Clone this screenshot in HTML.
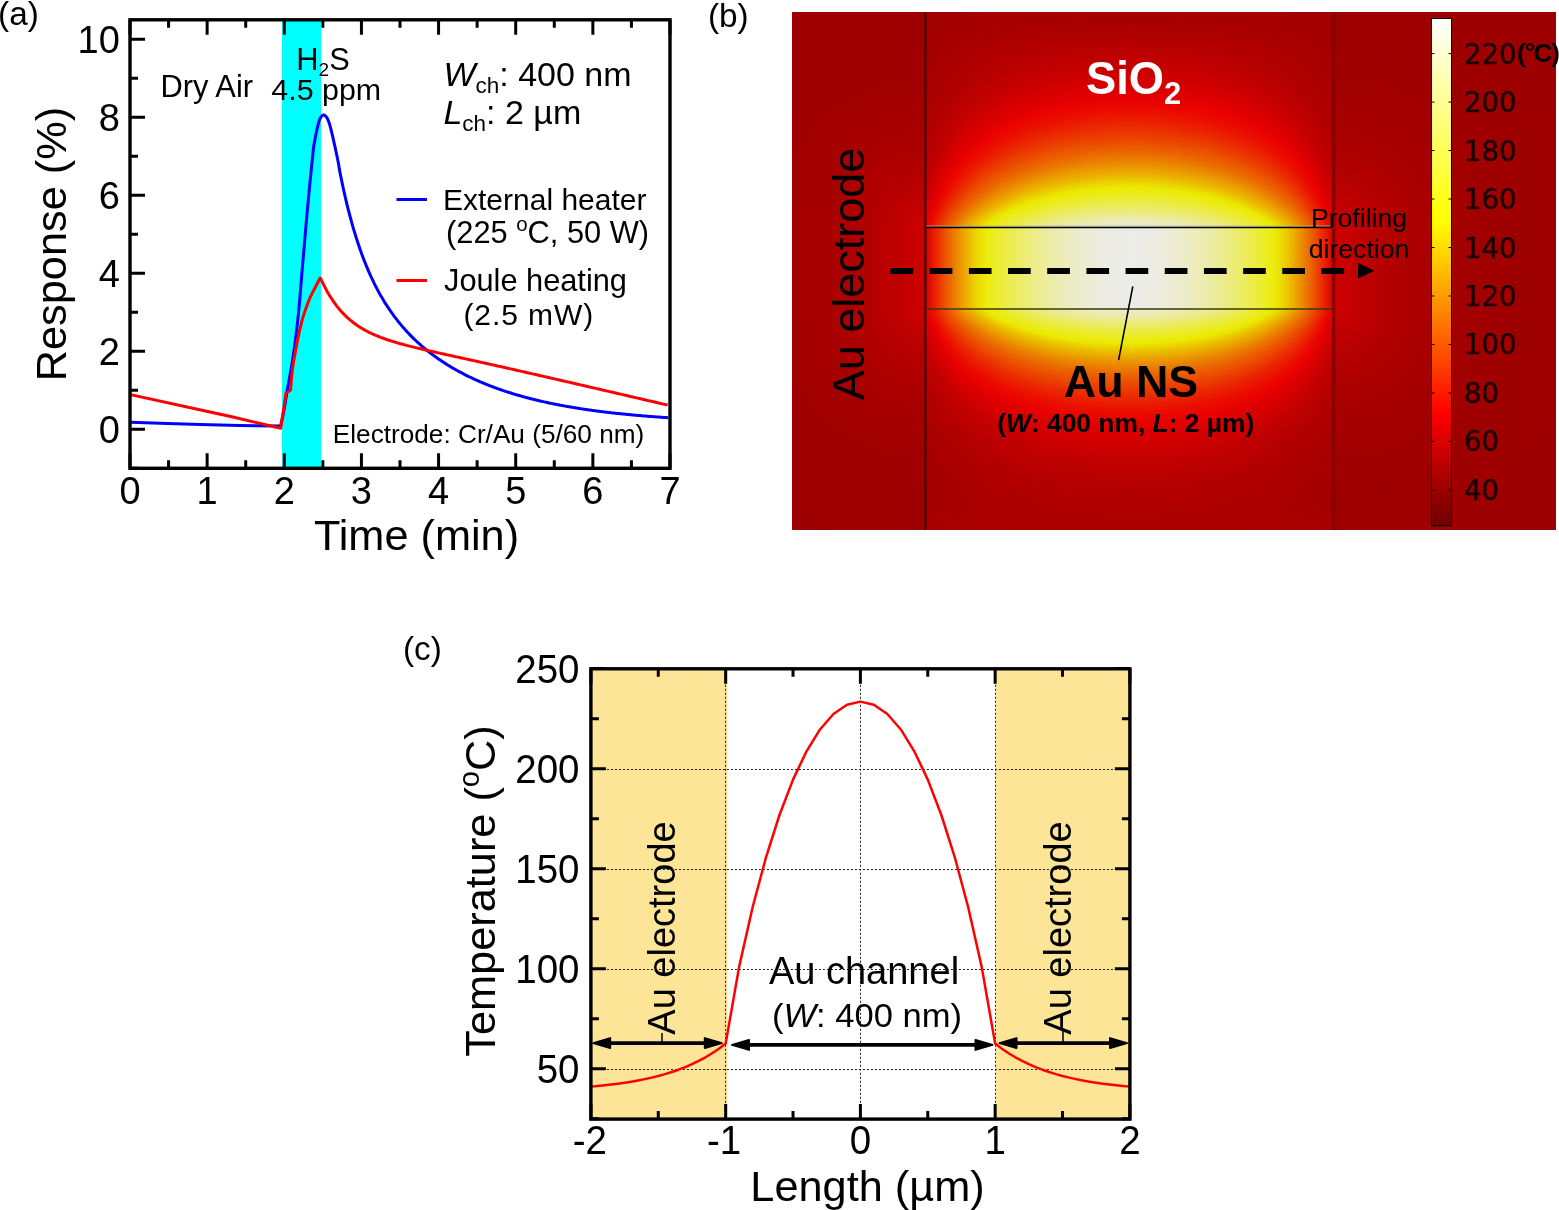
<!DOCTYPE html><html><head><meta charset="utf-8"><style>html,body{margin:0;padding:0;background:#fff;overflow:hidden;width:1559px;height:1210px}svg{display:block}</style></head><body><svg width="1559" height="1210" viewBox="0 0 1559 1210" font-family="'Liberation Sans', Arial, Helvetica, sans-serif">
<rect width="1559" height="1210" fill="#fff"/>
<rect x="282" y="19.8" width="39" height="448.5" fill="#00ffff"/>
<polyline points="130.5,422.2 160.0,423.2 200.0,424.6 240.0,425.6 280.6,425.9 280.6,425.9 281.2,423.5 281.8,420.9 282.4,418.2 283.0,415.3 283.6,412.3 284.2,408.9 284.8,405.4 285.4,401.7 286.0,398.0 286.6,394.3 287.2,390.7 287.8,387.4 288.4,384.0 289.0,380.8 289.6,377.5 290.2,374.2 290.8,370.8 291.4,367.3 292.0,363.6 292.6,359.7 293.2,355.7 293.8,351.6 294.4,347.4 295.0,343.0 295.6,338.4 296.2,333.6 296.8,328.6 297.4,323.4 298.0,317.9 298.6,311.8 299.2,305.3 299.8,298.5 300.4,291.4 301.0,284.1 301.6,276.8 302.2,269.6 302.8,262.5 303.4,255.6 304.0,248.7 304.6,241.7 305.2,234.7 305.8,227.7 306.4,220.8 307.0,213.9 307.6,207.3 308.2,200.8 308.8,194.4 309.4,188.2 310.0,182.0 310.6,176.0 311.2,170.0 311.8,164.2 312.4,158.4 313.0,152.8 313.6,147.2 313.7,146.3 314.3,143.0 314.9,139.7 315.5,136.6 316.1,133.5 316.7,130.5 317.3,127.8 317.9,125.3 318.5,123.0 319.1,121.1 319.7,119.5 320.3,118.2 320.9,117.1 321.5,116.3 322.1,115.7 322.7,115.2 323.3,115.0 323.9,115.0 324.5,115.2 325.1,115.6 325.7,116.2 326.3,116.9 326.9,117.7 327.5,118.8 328.1,120.1 328.7,121.6 329.3,123.4 329.9,125.4 330.5,127.6 331.1,129.9 331.7,132.4 332.3,134.9 332.9,137.4 333.5,140.1 334.1,142.8 334.7,145.5 335.3,148.2 335.9,151.0 336.5,153.9 337.1,156.7 337.7,159.7 338.3,162.6 338.6,164.1 339.2,168.4 340.2,173.6 341.2,178.5 342.2,183.3 343.2,188.0 344.2,192.5 345.2,196.9 346.2,201.1 347.2,205.3 348.2,209.3 349.2,213.2 350.2,217.0 351.2,220.7 352.2,224.3 353.2,227.8 354.2,231.1 355.2,234.4 356.2,237.6 357.2,240.8 358.2,243.8 359.2,246.8 360.2,249.7 361.2,252.5 362.2,255.2 363.2,257.9 364.2,260.5 365.2,263.0 366.2,265.5 367.2,267.9 368.2,270.3 369.2,272.6 370.2,274.8 371.2,277.0 372.2,279.1 373.2,281.2 374.2,283.3 375.2,285.3 376.2,287.2 377.2,289.2 378.2,291.0 379.2,292.9 380.2,294.7 381.2,296.4 382.2,298.1 383.2,299.8 384.2,301.5 385.2,303.1 386.2,304.7 387.2,306.2 388.2,307.7 389.2,309.2 390.2,310.7 391.2,312.1 392.2,313.5 393.2,314.9 394.2,316.3 395.2,317.6 396.2,318.9 397.2,320.2 398.2,321.5 399.2,322.7 400.2,323.9 401.2,325.1 402.2,326.3 403.2,327.5 404.2,328.6 405.2,329.7 406.2,330.9 407.2,331.9 408.2,333.0 409.2,334.1 410.2,335.1 411.2,336.1 412.2,337.1 413.2,338.1 414.2,339.1 415.2,340.0 416.2,341.0 417.2,341.9 418.2,342.8 419.2,343.7 420.2,344.6 421.2,345.5 422.2,346.4 423.2,347.2 424.2,348.1 425.2,348.9 426.2,349.7 427.2,350.5 428.2,351.3 429.2,352.1 430.2,352.9 431.2,353.6 432.2,354.4 433.2,355.1 434.2,355.9 435.2,356.6 436.2,357.3 437.2,358.0 438.2,358.7 439.2,359.4 440.2,360.1 441.2,360.8 442.2,361.4 443.2,362.1 444.2,362.8 445.2,363.4 446.2,364.0 447.2,364.7 448.2,365.3 449.2,365.9 450.2,366.5 451.2,367.1 452.2,367.7 453.2,368.3 454.2,368.8 455.2,369.4 456.2,370.0 457.2,370.5 458.2,371.1 459.2,371.6 460.2,372.2 461.2,372.7 462.2,373.2 463.2,373.7 464.2,374.3 465.2,374.8 466.2,375.3 467.2,375.8 468.2,376.3 469.2,376.8 470.2,377.2 471.2,377.7 472.2,378.2 473.2,378.6 474.2,379.1 475.2,379.6 476.2,380.0 477.2,380.5 478.2,380.9 479.2,381.3 480.2,381.8 481.2,382.2 482.2,382.6 483.2,383.0 484.2,383.5 485.2,383.9 486.2,384.3 487.2,384.7 488.2,385.1 489.2,385.5 490.2,385.9 491.2,386.2 492.2,386.6 493.2,387.0 494.2,387.4 495.2,387.7 496.2,388.1 497.2,388.5 498.2,388.8 499.2,389.2 500.2,389.5 501.2,389.9 502.2,390.2 503.2,390.6 504.2,390.9 505.2,391.2 506.2,391.6 507.2,391.9 508.2,392.2 509.2,392.5 510.2,392.8 511.2,393.1 512.2,393.5 513.2,393.8 514.2,394.1 515.2,394.4 516.2,394.7 517.2,395.0 518.2,395.2 519.2,395.5 520.2,395.8 521.2,396.1 522.2,396.4 523.2,396.7 524.2,396.9 525.2,397.2 526.2,397.5 527.2,397.7 528.2,398.0 529.2,398.3 530.2,398.5 531.2,398.8 532.2,399.0 533.2,399.3 534.2,399.5 535.2,399.8 536.2,400.0 537.2,400.3 538.2,400.5 539.2,400.7 540.2,401.0 541.2,401.2 542.2,401.4 543.2,401.6 544.2,401.9 545.2,402.1 546.2,402.3 547.2,402.5 548.2,402.7 549.2,403.0 550.2,403.2 551.2,403.4 552.2,403.6 553.2,403.8 554.2,404.0 555.2,404.2 556.2,404.4 557.2,404.6 558.2,404.8 559.2,405.0 560.2,405.2 561.2,405.4 562.2,405.5 563.2,405.7 564.2,405.9 565.2,406.1 566.2,406.3 567.2,406.5 568.2,406.6 569.2,406.8 570.2,407.0 571.2,407.1 572.2,407.3 573.2,407.5 574.2,407.6 575.2,407.8 576.2,408.0 577.2,408.1 578.2,408.3 579.2,408.5 580.2,408.6 581.2,408.8 582.2,408.9 583.2,409.1 584.2,409.2 585.2,409.4 586.2,409.5 587.2,409.7 588.2,409.8 589.2,409.9 590.2,410.1 591.2,410.2 592.2,410.4 593.2,410.5 594.2,410.6 595.2,410.8 596.2,410.9 597.2,411.0 598.2,411.2 599.2,411.3 600.2,411.4 601.2,411.6 602.2,411.7 603.2,411.8 604.2,411.9 605.2,412.1 606.2,412.2 607.2,412.3 608.2,412.4 609.2,412.5 610.2,412.6 611.2,412.8 612.2,412.9 613.2,413.0 614.2,413.1 615.2,413.2 616.2,413.3 617.2,413.4 618.2,413.5 619.2,413.6 620.2,413.7 621.2,413.8 622.2,413.9 623.2,414.0 624.2,414.1 625.2,414.2 626.2,414.3 627.2,414.4 628.2,414.5 629.2,414.6 630.2,414.7 631.2,414.8 632.2,414.9 633.2,415.0 634.2,415.1 635.2,415.2 636.2,415.3 637.2,415.4 638.2,415.5 639.2,415.5 640.2,415.6 641.2,415.7 642.2,415.8 643.2,415.9 644.2,416.0 645.2,416.1 646.2,416.1 647.2,416.2 648.2,416.3 649.2,416.4 650.2,416.4 651.2,416.5 652.2,416.6 653.2,416.7 654.2,416.8 655.2,416.8 656.2,416.9 657.2,417.0 658.2,417.0 659.2,417.1 660.2,417.2 661.2,417.3 662.2,417.3 663.2,417.4 664.2,417.5 665.2,417.5 666.2,417.6 667.2,417.7 668.2,417.7" fill="none" stroke="#0000ff" stroke-width="3" stroke-linejoin="round"/>
<polyline points="130.5,394.6 196.2,409.0 231.8,416.8 280.6,428.2 283.5,410.0 286.0,393.0 288.5,391.5 290.5,390.1 291.1,382.8 291.7,376.1 292.3,370.6 292.9,366.2 293.5,362.3 294.1,358.8 294.7,355.6 295.3,352.4 295.9,349.2 296.5,345.9 297.1,342.7 297.7,339.6 298.3,336.6 298.9,333.7 299.5,331.0 300.1,328.4 300.7,325.8 301.3,323.4 301.9,321.1 302.5,318.9 303.1,316.9 303.7,314.9 304.3,313.0 304.9,311.3 305.5,309.5 306.1,307.9 306.7,306.2 307.3,304.6 307.9,303.0 308.5,301.5 309.1,300.0 309.7,298.5 310.3,297.2 310.9,295.9 311.5,294.6 312.1,293.4 312.7,292.2 313.3,291.1 313.9,290.0 314.5,288.8 315.1,287.7 315.7,286.5 316.3,285.3 316.9,284.2 317.5,283.0 318.1,281.8 318.7,280.7 319.3,279.5 319.9,278.4 320.1,278.0 320.6,278.3 321.6,280.5 322.6,282.6 323.6,284.7 324.6,286.6 325.6,288.5 326.6,290.4 327.6,292.2 328.6,293.9 329.6,295.6 330.6,297.2 331.6,298.7 332.6,300.2 333.6,301.7 334.6,303.1 335.6,304.5 336.6,305.8 337.6,307.1 338.6,308.3 339.6,309.5 340.6,310.7 341.6,311.8 342.6,312.9 343.6,313.9 344.6,314.9 345.6,315.9 346.6,316.9 347.6,317.8 348.6,318.7 349.6,319.6 350.6,320.4 351.6,321.2 352.6,322.0 353.6,322.8 354.6,323.5 355.6,324.3 356.6,325.0 357.6,325.7 358.6,326.3 359.6,327.0 360.6,327.6 361.6,328.2 362.6,328.8 363.6,329.4 364.6,329.9 365.6,330.5 366.6,331.0 367.6,331.5 368.6,332.1 369.6,332.6 370.6,333.0 371.6,333.5 372.6,334.0 373.6,334.4 374.6,334.9 375.6,335.3 376.6,335.7 377.6,336.1 378.6,336.5 379.6,336.9 380.6,337.3 381.6,337.7 382.6,338.0 383.6,338.4 384.6,338.8 385.6,339.1 386.6,339.5 387.6,339.8 388.6,340.1 389.6,340.5 390.6,340.8 391.6,341.1 392.6,341.4 393.6,341.7 394.6,342.0 395.6,342.3 396.6,342.6 397.6,342.9 398.6,343.2 399.6,343.5 400.6,343.7 401.6,344.0 402.6,344.3 403.6,344.6 404.6,344.8 405.6,345.1 406.6,345.4 407.6,345.6 408.6,345.9 409.6,346.1 410.6,346.4 411.6,346.6 412.6,346.9 413.6,347.1 414.6,347.4 415.6,347.6 416.6,347.9 417.6,348.1 418.6,348.3 419.6,348.6 420.6,348.8 421.6,349.0 422.6,349.3 423.6,349.5 424.6,349.7 425.6,350.0 426.6,350.2 427.6,350.4 428.6,350.7 429.6,350.9 430.6,351.1 431.6,351.3 432.6,351.6 433.6,351.8 434.6,352.0 435.6,352.2 436.6,352.5 437.6,352.7 438.6,352.9 439.6,353.1 440.6,353.4 441.6,353.6 442.6,353.8 443.6,354.0 444.6,354.2 445.6,354.5 446.6,354.7 447.6,354.9 448.6,355.1 449.6,355.3 450.6,355.6 451.6,355.8 452.6,356.0 453.6,356.2 454.6,356.4 455.6,356.7 456.6,356.9 457.6,357.1 458.6,357.3 459.6,357.5 460.6,357.8 461.6,358.0 462.6,358.2 463.6,358.4 464.6,358.6 465.6,358.9 466.6,359.1 467.6,359.3 468.6,359.5 469.6,359.7 470.6,360.0 471.6,360.2 472.6,360.4 473.6,360.6 474.6,360.8 475.6,361.1 476.6,361.3 477.6,361.5 478.6,361.7 479.6,361.9 480.6,362.2 481.6,362.4 482.6,362.6 483.6,362.8 484.6,363.1 485.6,363.3 486.6,363.5 487.6,363.7 488.6,363.9 489.6,364.2 490.6,364.4 491.6,364.6 492.6,364.8 493.6,365.1 494.6,365.3 495.6,365.5 496.6,365.7 497.6,366.0 498.6,366.2 499.6,366.4 500.6,366.6 501.6,366.8 502.6,367.1 503.6,367.3 504.6,367.5 505.6,367.7 506.6,368.0 507.6,368.2 508.6,368.4 509.6,368.6 510.6,368.9 511.6,369.1 512.6,369.3 513.6,369.5 514.6,369.8 515.6,370.0 516.6,370.2 517.6,370.5 518.6,370.7 519.6,370.9 520.6,371.1 521.6,371.4 522.6,371.6 523.6,371.8 524.6,372.0 525.6,372.3 526.6,372.5 527.6,372.7 528.6,372.9 529.6,373.2 530.6,373.4 531.6,373.6 532.6,373.9 533.6,374.1 534.6,374.3 535.6,374.5 536.6,374.8 537.6,375.0 538.6,375.2 539.6,375.5 540.6,375.7 541.6,375.9 542.6,376.1 543.6,376.4 544.6,376.6 545.6,376.8 546.6,377.1 547.6,377.3 548.6,377.5 549.6,377.7 550.6,378.0 551.6,378.2 552.6,378.4 553.6,378.7 554.6,378.9 555.6,379.1 556.6,379.4 557.6,379.6 558.6,379.8 559.6,380.0 560.6,380.3 561.6,380.5 562.6,380.7 563.6,381.0 564.6,381.2 565.6,381.4 566.6,381.7 567.6,381.9 568.6,382.1 569.6,382.3 570.6,382.6 571.6,382.8 572.6,383.0 573.6,383.3 574.6,383.5 575.6,383.7 576.6,384.0 577.6,384.2 578.6,384.4 579.6,384.7 580.6,384.9 581.6,385.1 582.6,385.3 583.6,385.6 584.6,385.8 585.6,386.0 586.6,386.3 587.6,386.5 588.6,386.7 589.6,387.0 590.6,387.2 591.6,387.4 592.6,387.7 593.6,387.9 594.6,388.1 595.6,388.4 596.6,388.6 597.6,388.8 598.6,389.0 599.6,389.3 600.6,389.5 601.6,389.7 602.6,390.0 603.6,390.2 604.6,390.4 605.6,390.7 606.6,390.9 607.6,391.1 608.6,391.4 609.6,391.6 610.6,391.8 611.6,392.1 612.6,392.3 613.6,392.5 614.6,392.8 615.6,393.0 616.6,393.2 617.6,393.5 618.6,393.7 619.6,393.9 620.6,394.1 621.6,394.4 622.6,394.6 623.6,394.8 624.6,395.1 625.6,395.3 626.6,395.5 627.6,395.8 628.6,396.0 629.6,396.2 630.6,396.5 631.6,396.7 632.6,396.9 633.6,397.2 634.6,397.4 635.6,397.6 636.6,397.9 637.6,398.1 638.6,398.3 639.6,398.6 640.6,398.8 641.6,399.0 642.6,399.3 643.6,399.5 644.6,399.7 645.6,400.0 646.6,400.2 647.6,400.4 648.6,400.7 649.6,400.9 650.6,401.1 651.6,401.3 652.6,401.6 653.6,401.8 654.6,402.0 655.6,402.3 656.6,402.5 657.6,402.7 658.6,403.0 659.6,403.2 660.6,403.4 661.6,403.7 662.6,403.9 663.6,404.1 664.6,404.4 665.6,404.6 666.6,404.8 667.6,405.1" fill="none" stroke="#ff0000" stroke-width="3" stroke-linejoin="round"/>
<rect x="130.0" y="19.8" width="540.0" height="448.5" fill="none" stroke="#000" stroke-width="3.4"/>
<path d="M130 468.3v-15M130 19.8v15M168.57 468.3v-8M168.57 19.8v8M207.14 468.3v-15M207.14 19.8v15M245.71 468.3v-8M245.71 19.8v8M284.29 468.3v-15M284.29 19.8v15M322.86 468.3v-8M322.86 19.8v8M361.43 468.3v-15M361.43 19.8v15M400 468.3v-8M400 19.8v8M438.57 468.3v-15M438.57 19.8v15M477.14 468.3v-8M477.14 19.8v8M515.71 468.3v-15M515.71 19.8v15M554.29 468.3v-8M554.29 19.8v8M592.86 468.3v-15M592.86 19.8v15M631.43 468.3v-8M631.43 19.8v8M670 468.3v-15M670 19.8v15M130.0 468.3h8M130.0 429.3h15M130.0 390.3h8M130.0 351.3h15M130.0 312.3h8M130.0 273.3h15M130.0 234.3h8M130.0 195.3h15M130.0 156.3h8M130.0 117.3h15M130.0 78.3h8M130.0 39.3h15" stroke="#000" stroke-width="3" fill="none"/>
<text transform="translate(119.8 442.8) scale(1 1.04)" font-size="38" text-anchor="end" >0</text>
<text transform="translate(119.8 364.8) scale(1 1.04)" font-size="38" text-anchor="end" >2</text>
<text transform="translate(119.8 286.8) scale(1 1.04)" font-size="38" text-anchor="end" >4</text>
<text transform="translate(119.8 208.8) scale(1 1.04)" font-size="38" text-anchor="end" >6</text>
<text transform="translate(119.8 130.8) scale(1 1.04)" font-size="38" text-anchor="end" >8</text>
<text transform="translate(119.8 52.8) scale(1 1.04)" font-size="38" text-anchor="end" >10</text>
<text transform="translate(130 503.5) scale(1 1.04)" font-size="38" text-anchor="middle" >0</text>
<text transform="translate(207.14 503.5) scale(1 1.04)" font-size="38" text-anchor="middle" >1</text>
<text transform="translate(284.29 503.5) scale(1 1.04)" font-size="38" text-anchor="middle" >2</text>
<text transform="translate(361.43 503.5) scale(1 1.04)" font-size="38" text-anchor="middle" >3</text>
<text transform="translate(438.57 503.5) scale(1 1.04)" font-size="38" text-anchor="middle" >4</text>
<text transform="translate(515.71 503.5) scale(1 1.04)" font-size="38" text-anchor="middle" >5</text>
<text transform="translate(592.86 503.5) scale(1 1.04)" font-size="38" text-anchor="middle" >6</text>
<text transform="translate(670 503.5) scale(1 1.04)" font-size="38" text-anchor="middle" >7</text>
<text x="416.5" y="550" font-size="43.3" text-anchor="middle" >Time (min)</text>
<text transform="translate(65.5 244.1) rotate(-90)" font-size="43.3" text-anchor="middle">Response (%)</text>
<text x="160.6" y="96.8" font-size="30.8" >Dry Air</text>
<text x="296.3" y="69.5" font-size="30.8" >H<tspan font-size="19" dy="6.5">2</tspan><tspan dy="-6.5">S</tspan></text>
<text x="271.3" y="99.8" font-size="30.4" >4.5 ppm</text>
<text x="443.4" y="85.8" font-size="34" ><tspan font-style="italic">W</tspan><tspan font-size="22.5" dy="7">ch</tspan><tspan dy="-7">: 400 nm</tspan></text>
<text x="443.4" y="124.2" font-size="34" ><tspan font-style="italic">L</tspan><tspan font-size="22.5" dy="7">ch</tspan><tspan dy="-7">: 2 µm</tspan></text>
<path d="M396.5 199.5h30.5" stroke="#0000ff" stroke-width="3"/>
<path d="M396.5 280.5h30.5" stroke="#ff0000" stroke-width="3"/>
<text x="443" y="209.8" font-size="30" >External heater</text>
<text x="446" y="242.6" font-size="30.8" >(225 <tspan font-size="20.5" dy="-12">o</tspan><tspan dy="12">C, 50 W)</tspan></text>
<text x="444" y="290.8" font-size="30.75" >Joule heating</text>
<text x="463.4" y="324.6" font-size="30" textLength="129.9" lengthAdjust="spacing" >(2.5 mW)</text>
<text x="332.8" y="442.7" font-size="26.2" >Electrode: Cr/Au (5/60 nm)</text>
<text x="-1.9" y="24.8" font-size="33.3" >(a)</text>
<rect x="590.9" y="668.8" width="136.7" height="450.3" fill="#fde598"/>
<rect x="995.6" y="668.8" width="134.3" height="450.3" fill="#fde598"/>
<path d="M590.9 1069.5H1129.9M590.9 969.5H1129.9M590.9 869.5H1129.9M590.9 769.5H1129.9M725.5 668.8V1119.1M860.5 668.8V1119.1M995.5 668.8V1119.1" stroke="#1a1a1a" stroke-width="1" stroke-dasharray="2 2" fill="none"/>
<polyline points="590.9,1086.63 597.64,1086.01 604.38,1085.33 611.11,1084.56 617.85,1083.7 624.59,1082.74 631.33,1081.67 638.06,1080.48 644.8,1079.14 651.54,1077.65 658.27,1075.98 665.01,1074.11 671.75,1072.03 678.49,1069.7 685.23,1067.09 691.96,1064.18 698.7,1060.93 705.44,1057.3 712.17,1053.24 718.91,1048.7 725.65,1043.62 739.12,966.9 752.6,907.26 766.08,857.05 779.55,814.75 793.02,779.63 806.5,751.29 819.98,729.45 833.45,713.96 846.92,704.7 860.4,701.62 873.88,704.7 887.35,713.96 900.82,729.45 914.3,751.29 927.77,779.63 941.25,814.75 954.73,857.05 968.2,907.26 981.67,966.9 995.15,1043.62 1001.89,1048.7 1008.62,1053.24 1015.36,1057.3 1022.1,1060.93 1028.84,1064.18 1035.58,1067.09 1042.31,1069.7 1049.05,1072.03 1055.79,1074.11 1062.53,1075.98 1069.26,1077.65 1076,1079.14 1082.74,1080.48 1089.47,1081.67 1096.21,1082.74 1102.95,1083.7 1109.69,1084.56 1116.42,1085.33 1123.16,1086.01 1129.9,1086.63" fill="none" stroke="#ff0000" stroke-width="2.5" stroke-linejoin="round"/>
<rect x="590.9" y="668.8" width="539.0000000000001" height="450.3" fill="none" stroke="#000" stroke-width="3.4"/>
<path d="M590.9 1119.1v-15M590.9 668.8v15M658.27 1119.1v-8M658.27 668.8v8M725.65 1119.1v-15M725.65 668.8v15M793.02 1119.1v-8M793.02 668.8v8M860.4 1119.1v-15M860.4 668.8v15M927.77 1119.1v-8M927.77 668.8v8M995.15 1119.1v-15M995.15 668.8v15M1062.53 1119.1v-8M1062.53 668.8v8M1129.9 1119.1v-15M1129.9 668.8v15M590.9 1118.87h8M1129.9 1118.87h-8M590.9 1068.84h15M1129.9 1068.84h-15M590.9 1018.81h8M1129.9 1018.81h-8M590.9 968.78h15M1129.9 968.78h-15M590.9 918.75h8M1129.9 918.75h-8M590.9 868.72h15M1129.9 868.72h-15M590.9 818.69h8M1129.9 818.69h-8M590.9 768.66h15M1129.9 768.66h-15M590.9 718.63h8M1129.9 718.63h-8M590.9 668.6h15M1129.9 668.6h-15" stroke="#000" stroke-width="3" fill="none"/>
<text transform="translate(579.5 1083.14) scale(1 1.04)" font-size="38.5" text-anchor="end" >50</text>
<text transform="translate(579.5 983.08) scale(1 1.04)" font-size="38.5" text-anchor="end" >100</text>
<text transform="translate(579.5 883.02) scale(1 1.04)" font-size="38.5" text-anchor="end" >150</text>
<text transform="translate(579.5 782.96) scale(1 1.04)" font-size="38.5" text-anchor="end" >200</text>
<text transform="translate(579.5 682.9) scale(1 1.04)" font-size="38.5" text-anchor="end" >250</text>
<text transform="translate(589.9 1154) scale(1 1.04)" font-size="38.5" text-anchor="middle" >-2</text>
<text transform="translate(724.15 1154) scale(1 1.04)" font-size="38.5" text-anchor="middle" >-1</text>
<text transform="translate(860.4 1154) scale(1 1.04)" font-size="38.5" text-anchor="middle" >0</text>
<text transform="translate(995.15 1154) scale(1 1.04)" font-size="38.5" text-anchor="middle" >1</text>
<text transform="translate(1129.9 1154) scale(1 1.04)" font-size="38.5" text-anchor="middle" >2</text>
<text x="867.5" y="1201" font-size="43.3" text-anchor="middle" >Length (µm)</text>
<text transform="translate(494.5 891) rotate(-90)" font-size="43.3" text-anchor="middle">Temperature (<tspan font-size="29" dy="-16">o</tspan><tspan dy="16">C)</tspan></text>
<text x="864" y="983.7" font-size="38" text-anchor="middle" >Au channel</text>
<text x="867" y="1027.2" font-size="33.5" text-anchor="middle" textLength="190" lengthAdjust="spacingAndGlyphs" >(<tspan font-style="italic">W</tspan>: 400 nm)</text>
<text transform="translate(674.5 928) rotate(-90)" font-size="38" text-anchor="middle">Au electrode</text>
<text transform="translate(1071 928) rotate(-90)" font-size="38" text-anchor="middle">Au electrode</text>
<path d="M607.2 1043.1H707.8" stroke="#000" stroke-width="3.8"/>
<path d="M593.2 1043.1l17 -5v10z M721.8 1043.1l-17 -5v10z" fill="#000" stroke="#000" stroke-width="2" stroke-linejoin="round"/>
<path d="M746 1044.9H978.5" stroke="#000" stroke-width="3.8"/>
<path d="M732 1044.9l17 -5v10z M992.5 1044.9l-17 -5v10z" fill="#000" stroke="#000" stroke-width="2" stroke-linejoin="round"/>
<path d="M1013.5 1043.1H1113" stroke="#000" stroke-width="3.8"/>
<path d="M999.5 1043.1l17 -5v10z M1127 1043.1l-17 -5v10z" fill="#000" stroke="#000" stroke-width="2" stroke-linejoin="round"/>
<path d="M662 1033V1044M1063 1031V1044" stroke="#000" stroke-width="1.5"/>
<text x="402.9" y="659.6" font-size="33.3" >(c)</text>
<defs>
<filter id="hm" x="700" y="-40" width="920" height="620" filterUnits="userSpaceOnUse" color-interpolation-filters="sRGB">
<feGaussianBlur stdDeviation="5.0"/>
<feComponentTransfer><feFuncR type="table" tableValues="0.343 0.399 0.455 0.511 0.567 0.623 0.679 0.735 0.791 0.847 0.903 0.925 0.925 0.925 0.925 0.925 0.925 0.925 0.925 0.925 0.925 0.925 0.925 0.925 0.925 0.925 0.925 0.925 0.925 0.925 0.925 0.925 0.925 0.925 0.925 0.925 0.925 0.925 0.925 0.925 0.925 0.925 0.925 0.925 0.925"/><feFuncG type="table" tableValues="0.000 0.000 0.000 0.000 0.000 0.000 0.000 0.000 0.000 0.000 0.000 0.035 0.094 0.152 0.211 0.269 0.328 0.386 0.445 0.503 0.562 0.621 0.679 0.738 0.796 0.855 0.913 0.925 0.925 0.925 0.925 0.925 0.925 0.925 0.925 0.925 0.925 0.925 0.925 0.925 0.925 0.925 0.925 0.925 0.925"/><feFuncB type="table" tableValues="0.000 0.000 0.000 0.000 0.000 0.000 0.000 0.000 0.000 0.000 0.000 0.000 0.000 0.000 0.000 0.000 0.000 0.000 0.000 0.000 0.000 0.000 0.000 0.000 0.000 0.000 0.000 0.044 0.099 0.154 0.209 0.264 0.319 0.374 0.429 0.485 0.540 0.595 0.650 0.705 0.760 0.815 0.870 0.925 0.925"/><feFuncA type="linear" slope="0" intercept="1"/></feComponentTransfer>
</filter>
<clipPath id="cpL"><rect x="792.0" y="12.0" width="133.5" height="518.0"/></clipPath>
<clipPath id="cpR"><rect x="1334.0" y="12.0" width="222.0" height="518.0"/></clipPath>
<clipPath id="cpS"><rect x="925.5" y="12.0" width="408.5" height="518.0"/></clipPath>
</defs>
<g clip-path="url(#cpL)"><g filter="url(#hm)">
<rect x="768" y="-12" width="184" height="568" fill="#000"/>
<path fill="#1c1c1c" d="M768 -12h48v8h-48zM768 -4h48v8h-48zM768 4h48v8h-48zM768 12h40v8h-40zM768 20h24v8h-24zM768 508h24v8h-24zM768 516h40v8h-40zM768 524h56v8h-56zM768 532h56v8h-56zM768 540h56v8h-56zM768 548h56v8h-56z"/>
<path fill="#1d1d1d" d="M816 -12h136v8h-136zM816 -4h136v8h-136zM816 4h136v8h-136zM808 12h144v8h-144zM792 20h160v8h-160zM768 28h184v8h-184zM768 36h184v8h-184zM768 44h184v8h-184zM768 52h104v8h-104zM768 60h88v8h-88zM768 68h72v8h-72zM768 76h56v8h-56zM768 84h48v8h-48zM768 92h40v8h-40zM768 100h32v8h-32zM768 428h32v8h-32zM768 436h40v8h-40zM768 444h48v8h-48zM768 452h56v8h-56zM768 460h72v8h-72zM768 468h88v8h-88zM768 476h104v8h-104zM768 484h184v8h-184zM768 492h184v8h-184zM768 500h184v8h-184zM792 508h160v8h-160zM808 516h144v8h-144zM824 524h128v8h-128zM824 532h128v8h-128zM824 540h128v8h-128zM824 548h128v8h-128z"/>
<path fill="#1e1e1e" d="M872 52h80v8h-80zM856 60h96v8h-96zM840 68h112v8h-112zM824 76h128v8h-128zM816 84h64v8h-64zM808 92h56v8h-56zM800 100h48v8h-48zM768 108h64v8h-64zM768 116h56v8h-56zM768 124h48v8h-48zM768 132h40v8h-40zM768 140h40v8h-40zM768 148h32v8h-32zM768 156h24v8h-24zM768 164h24v8h-24zM768 364h24v8h-24zM768 372h24v8h-24zM768 380h32v8h-32zM768 388h40v8h-40zM768 396h40v8h-40zM768 404h48v8h-48zM768 412h56v8h-56zM768 420h64v8h-64zM800 428h48v8h-48zM808 436h56v8h-56zM816 444h64v8h-64zM824 452h128v8h-128zM840 460h112v8h-112zM856 468h96v8h-96zM872 476h80v8h-80z"/>
<path fill="#1f1f1f" d="M880 84h72v8h-72zM864 92h88v8h-88zM848 100h64v8h-64zM832 108h48v8h-48zM824 116h40v8h-40zM816 124h32v8h-32zM808 132h32v8h-32zM808 140h24v8h-24zM800 148h24v8h-24zM792 156h32v8h-32zM792 164h24v8h-24zM768 172h48v8h-48zM768 180h40v8h-40zM768 188h40v8h-40zM768 196h40v8h-40zM768 204h32v8h-32zM768 212h32v8h-32zM768 220h32v8h-32zM768 228h32v8h-32zM768 236h32v8h-32zM768 244h32v8h-32zM768 252h32v8h-32zM768 260h32v8h-32zM768 268h32v8h-32zM768 276h32v8h-32zM768 284h32v8h-32zM768 292h32v8h-32zM768 300h32v8h-32zM768 308h32v8h-32zM768 316h32v8h-32zM768 324h32v8h-32zM768 332h40v8h-40zM768 340h40v8h-40zM768 348h40v8h-40zM768 356h48v8h-48zM792 364h24v8h-24zM792 372h32v8h-32zM800 380h24v8h-24zM808 388h24v8h-24zM808 396h32v8h-32zM816 404h32v8h-32zM824 412h40v8h-40zM832 420h48v8h-48zM848 428h64v8h-64zM864 436h88v8h-88zM880 444h72v8h-72z"/>
<path fill="#202020" d="M912 100h40v8h-40zM880 108h72v8h-72zM864 116h88v8h-88zM848 124h40v8h-40zM840 132h32v8h-32zM832 140h24v8h-24zM824 148h24v8h-24zM824 156h16v8h-16zM816 164h24v8h-24zM816 172h16v8h-16zM808 180h16v8h-16zM808 188h16v8h-16zM808 196h16v8h-16zM800 204h24v8h-24zM800 212h16v8h-16zM800 220h16v8h-16zM800 228h16v8h-16zM800 236h16v8h-16zM800 244h16v8h-16zM800 252h16v8h-16zM800 260h16v8h-16zM800 268h16v8h-16zM800 276h16v8h-16zM800 284h16v8h-16zM800 292h16v8h-16zM800 300h16v8h-16zM800 308h16v8h-16zM800 316h16v8h-16zM800 324h24v8h-24zM808 332h16v8h-16zM808 340h16v8h-16zM808 348h16v8h-16zM816 356h16v8h-16zM816 364h24v8h-24zM824 372h16v8h-16zM824 380h24v8h-24zM832 388h24v8h-24zM840 396h32v8h-32zM848 404h40v8h-40zM864 412h88v8h-88zM880 420h72v8h-72zM912 428h40v8h-40z"/>
<path fill="#212121" d="M888 124h64v8h-64zM872 132h32v8h-32zM856 140h24v8h-24zM848 148h24v8h-24zM840 156h24v8h-24zM840 164h16v8h-16zM832 172h16v8h-16zM824 180h16v8h-16zM824 188h16v8h-16zM824 196h16v8h-16zM824 204h8v8h-8zM816 212h16v8h-16zM816 220h16v8h-16zM816 228h16v8h-16zM816 236h16v8h-16zM816 244h16v8h-16zM816 252h16v8h-16zM816 260h16v8h-16zM816 268h16v8h-16zM816 276h16v8h-16zM816 284h16v8h-16zM816 292h16v8h-16zM816 300h16v8h-16zM816 308h16v8h-16zM816 316h16v8h-16zM824 324h8v8h-8zM824 332h16v8h-16zM824 340h16v8h-16zM824 348h16v8h-16zM832 356h16v8h-16zM840 364h16v8h-16zM840 372h24v8h-24zM848 380h24v8h-24zM856 388h24v8h-24zM872 396h32v8h-32zM888 404h64v8h-64z"/>
<path fill="#222222" d="M904 132h48v8h-48zM880 140h72v8h-72zM872 148h24v8h-24zM864 156h16v8h-16zM856 164h16v8h-16zM848 172h16v8h-16zM840 180h16v8h-16zM840 188h8v8h-8zM840 196h8v8h-8zM832 204h16v8h-16zM832 212h16v8h-16zM832 220h8v8h-8zM832 228h8v8h-8zM832 236h8v8h-8zM832 244h8v8h-8zM832 252h8v8h-8zM832 260h8v8h-8zM832 268h8v8h-8zM832 276h8v8h-8zM832 284h8v8h-8zM832 292h8v8h-8zM832 300h8v8h-8zM832 308h8v8h-8zM832 316h16v8h-16zM832 324h16v8h-16zM840 332h8v8h-8zM840 340h8v8h-8zM840 348h16v8h-16zM848 356h16v8h-16zM856 364h16v8h-16zM864 372h16v8h-16zM872 380h24v8h-24zM880 388h72v8h-72zM904 396h48v8h-48z"/>
<path fill="#232323" d="M896 148h56v8h-56zM880 156h16v8h-16zM872 164h8v8h-8zM864 172h8v8h-8zM856 180h8v8h-8zM848 188h16v8h-16zM848 196h8v8h-8zM848 204h8v8h-8zM848 212h8v8h-8zM840 220h16v8h-16zM840 228h16v8h-16zM840 236h16v8h-16zM840 244h16v8h-16zM840 252h16v8h-16zM840 260h16v8h-16zM840 268h16v8h-16zM840 276h16v8h-16zM840 284h16v8h-16zM840 292h16v8h-16zM840 300h16v8h-16zM840 308h16v8h-16zM848 316h8v8h-8zM848 324h8v8h-8zM848 332h8v8h-8zM848 340h16v8h-16zM856 348h8v8h-8zM864 356h8v8h-8zM872 364h8v8h-8zM880 372h16v8h-16zM896 380h56v8h-56z"/>
<path fill="#242424" d="M896 156h56v8h-56zM880 164h24v8h-24zM872 172h16v8h-16zM864 180h16v8h-16zM864 188h8v8h-8zM856 196h8v8h-8zM856 204h8v8h-8zM856 212h8v8h-8zM856 220h8v8h-8zM856 228h8v8h-8zM856 236h8v8h-8zM856 244h8v8h-8zM856 252h8v8h-8zM856 260h8v8h-8zM856 268h8v8h-8zM856 276h8v8h-8zM856 284h8v8h-8zM856 292h8v8h-8zM856 300h8v8h-8zM856 308h8v8h-8zM856 316h8v8h-8zM856 324h8v8h-8zM856 332h8v8h-8zM864 340h8v8h-8zM864 348h16v8h-16zM872 356h16v8h-16zM880 364h24v8h-24zM896 372h56v8h-56z"/>
<path fill="#252525" d="M904 164h48v8h-48zM888 172h16v8h-16zM880 180h8v8h-8zM872 188h8v8h-8zM864 196h16v8h-16zM864 204h8v8h-8zM864 212h8v8h-8zM864 220h8v8h-8zM864 228h8v8h-8zM864 236h8v8h-8zM864 244h8v8h-8zM864 252h8v8h-8zM864 260h8v8h-8zM864 268h8v8h-8zM864 276h8v8h-8zM864 284h8v8h-8zM864 292h8v8h-8zM864 300h8v8h-8zM864 308h8v8h-8zM864 316h8v8h-8zM864 324h8v8h-8zM864 332h16v8h-16zM872 340h8v8h-8zM880 348h8v8h-8zM888 356h16v8h-16zM904 364h48v8h-48z"/>
<path fill="#262626" d="M904 172h48v8h-48zM888 180h16v8h-16zM880 188h8v8h-8zM880 196h8v8h-8zM872 204h8v8h-8zM872 212h8v8h-8zM872 220h8v8h-8zM872 228h8v8h-8zM872 236h8v8h-8zM872 244h8v8h-8zM872 252h8v8h-8zM872 260h8v8h-8zM872 268h8v8h-8zM872 276h8v8h-8zM872 284h8v8h-8zM872 292h8v8h-8zM872 300h8v8h-8zM872 308h8v8h-8zM872 316h8v8h-8zM872 324h8v8h-8zM880 332h8v8h-8zM880 340h8v8h-8zM888 348h16v8h-16zM904 356h48v8h-48z"/>
<path fill="#272727" d="M904 180h48v8h-48zM888 188h16v8h-16zM888 196h8v8h-8zM880 204h8v8h-8zM880 212h8v8h-8zM880 316h8v8h-8zM880 324h8v8h-8zM888 332h8v8h-8zM888 340h16v8h-16zM904 348h48v8h-48z"/>
<path fill="#282828" d="M904 188h8v8h-8zM888 204h8v8h-8zM880 220h8v8h-8zM880 228h8v8h-8zM880 236h8v8h-8zM880 244h8v8h-8zM880 252h8v8h-8zM880 260h8v8h-8zM880 268h8v8h-8zM880 276h8v8h-8zM880 284h8v8h-8zM880 292h8v8h-8zM880 300h8v8h-8zM880 308h8v8h-8zM888 324h8v8h-8zM904 340h8v8h-8z"/>
<path fill="#292929" d="M912 188h40v8h-40zM896 196h16v8h-16zM888 212h8v8h-8zM888 220h8v8h-8zM888 228h8v8h-8zM888 236h8v8h-8zM888 244h8v8h-8zM888 252h8v8h-8zM888 260h8v8h-8zM888 268h8v8h-8zM888 276h8v8h-8zM888 284h8v8h-8zM888 292h8v8h-8zM888 300h8v8h-8zM888 308h8v8h-8zM888 316h8v8h-8zM896 332h16v8h-16zM912 340h40v8h-40z"/>
<path fill="#2a2a2a" d="M912 196h40v8h-40zM896 204h8v8h-8zM896 212h8v8h-8zM896 316h8v8h-8zM896 324h8v8h-8zM912 332h40v8h-40z"/>
<path fill="#2b2b2b" d="M904 204h8v8h-8zM896 220h8v8h-8zM896 228h8v8h-8zM896 236h8v8h-8zM896 244h8v8h-8zM896 252h8v8h-8zM896 260h8v8h-8zM896 268h8v8h-8zM896 276h8v8h-8zM896 284h8v8h-8zM896 292h8v8h-8zM896 300h8v8h-8zM896 308h8v8h-8zM904 324h8v8h-8z"/>
<path fill="#2c2c2c" d="M912 204h40v8h-40zM904 212h8v8h-8zM904 316h8v8h-8zM912 324h40v8h-40z"/>
<path fill="#2d2d2d" d="M912 212h8v8h-8zM904 220h8v8h-8zM904 228h8v8h-8zM904 236h8v8h-8zM904 244h8v8h-8zM904 252h8v8h-8zM904 260h8v8h-8zM904 268h8v8h-8zM904 276h8v8h-8zM904 284h8v8h-8zM904 292h8v8h-8zM904 300h8v8h-8zM904 308h8v8h-8zM912 316h8v8h-8z"/>
<path fill="#2e2e2e" d="M920 212h32v8h-32zM920 316h32v8h-32z"/>
<path fill="#2f2f2f" d="M912 220h8v8h-8zM912 228h8v8h-8zM912 236h8v8h-8zM912 244h8v8h-8zM912 252h8v8h-8zM912 260h8v8h-8zM912 268h8v8h-8zM912 276h8v8h-8zM912 284h8v8h-8zM912 292h8v8h-8zM912 300h8v8h-8zM912 308h8v8h-8z"/>
<path fill="#303030" d="M920 220h32v8h-32zM920 308h32v8h-32z"/>
<path fill="#313131" d="M920 228h32v8h-32zM920 236h32v8h-32zM920 244h32v8h-32zM920 252h32v8h-32zM920 260h32v8h-32zM920 268h32v8h-32zM920 276h32v8h-32zM920 284h32v8h-32zM920 292h32v8h-32zM920 300h32v8h-32z"/>
</g></g>
<g clip-path="url(#cpR)"><g filter="url(#hm)">
<rect x="1310" y="-12" width="272" height="568" fill="#000"/>
<path fill="#1c1c1c" d="M1446 -12h136v8h-136zM1446 -4h136v8h-136zM1446 4h136v8h-136zM1454 12h128v8h-128zM1462 20h120v8h-120zM1478 28h104v8h-104zM1486 36h96v8h-96zM1494 44h88v8h-88zM1502 52h80v8h-80zM1510 60h72v8h-72zM1518 68h64v8h-64zM1526 76h56v8h-56zM1534 84h48v8h-48zM1534 92h48v8h-48zM1542 100h40v8h-40zM1550 108h32v8h-32zM1550 116h32v8h-32zM1558 124h24v8h-24zM1558 404h24v8h-24zM1550 412h32v8h-32zM1550 420h32v8h-32zM1542 428h40v8h-40zM1534 436h48v8h-48zM1534 444h48v8h-48zM1526 452h56v8h-56zM1518 460h64v8h-64zM1510 468h72v8h-72zM1502 476h80v8h-80zM1494 484h88v8h-88zM1486 492h96v8h-96zM1478 500h104v8h-104zM1462 508h120v8h-120zM1454 516h128v8h-128zM1438 524h144v8h-144zM1430 532h152v8h-152zM1430 540h152v8h-152zM1430 548h152v8h-152z"/>
<path fill="#1d1d1d" d="M1310 -12h136v8h-136zM1310 -4h136v8h-136zM1310 4h136v8h-136zM1310 12h144v8h-144zM1310 20h152v8h-152zM1310 28h168v8h-168zM1310 36h176v8h-176zM1310 44h184v8h-184zM1382 52h120v8h-120zM1406 60h104v8h-104zM1422 68h96v8h-96zM1438 76h88v8h-88zM1446 84h88v8h-88zM1454 92h80v8h-80zM1462 100h80v8h-80zM1470 108h80v8h-80zM1478 116h72v8h-72zM1486 124h72v8h-72zM1486 132h96v8h-96zM1494 140h88v8h-88zM1494 148h88v8h-88zM1502 156h80v8h-80zM1502 164h80v8h-80zM1502 172h80v8h-80zM1510 180h72v8h-72zM1510 188h72v8h-72zM1510 196h72v8h-72zM1510 204h72v8h-72zM1510 212h72v8h-72zM1510 220h72v8h-72zM1510 228h72v8h-72zM1510 236h72v8h-72zM1510 244h72v8h-72zM1510 252h72v8h-72zM1510 260h72v8h-72zM1510 268h72v8h-72zM1510 276h72v8h-72zM1510 284h72v8h-72zM1510 292h72v8h-72zM1510 300h72v8h-72zM1510 308h72v8h-72zM1510 316h72v8h-72zM1510 324h72v8h-72zM1510 332h72v8h-72zM1510 340h72v8h-72zM1510 348h72v8h-72zM1502 356h80v8h-80zM1502 364h80v8h-80zM1502 372h80v8h-80zM1494 380h88v8h-88zM1494 388h88v8h-88zM1486 396h96v8h-96zM1486 404h72v8h-72zM1478 412h72v8h-72zM1470 420h80v8h-80zM1462 428h80v8h-80zM1454 436h80v8h-80zM1446 444h88v8h-88zM1438 452h88v8h-88zM1422 460h96v8h-96zM1406 468h104v8h-104zM1382 476h120v8h-120zM1310 484h184v8h-184zM1310 492h176v8h-176zM1310 500h168v8h-168zM1310 508h152v8h-152zM1310 516h144v8h-144zM1310 524h128v8h-128zM1310 532h120v8h-120zM1310 540h120v8h-120zM1310 548h120v8h-120z"/>
<path fill="#1e1e1e" d="M1310 52h72v8h-72zM1310 60h96v8h-96zM1310 68h112v8h-112zM1310 76h128v8h-128zM1382 84h64v8h-64zM1398 92h56v8h-56zM1414 100h48v8h-48zM1422 108h48v8h-48zM1430 116h48v8h-48zM1438 124h48v8h-48zM1446 132h40v8h-40zM1454 140h40v8h-40zM1462 148h32v8h-32zM1462 156h40v8h-40zM1470 164h32v8h-32zM1470 172h32v8h-32zM1470 180h40v8h-40zM1478 188h32v8h-32zM1478 196h32v8h-32zM1478 204h32v8h-32zM1478 212h32v8h-32zM1478 220h32v8h-32zM1478 228h32v8h-32zM1478 236h32v8h-32zM1478 244h32v8h-32zM1478 252h32v8h-32zM1478 260h32v8h-32zM1478 268h32v8h-32zM1478 276h32v8h-32zM1478 284h32v8h-32zM1478 292h32v8h-32zM1478 300h32v8h-32zM1478 308h32v8h-32zM1478 316h32v8h-32zM1478 324h32v8h-32zM1478 332h32v8h-32zM1478 340h32v8h-32zM1470 348h40v8h-40zM1470 356h32v8h-32zM1470 364h32v8h-32zM1462 372h40v8h-40zM1462 380h32v8h-32zM1454 388h40v8h-40zM1446 396h40v8h-40zM1438 404h48v8h-48zM1430 412h48v8h-48zM1422 420h48v8h-48zM1414 428h48v8h-48zM1398 436h56v8h-56zM1382 444h64v8h-64zM1310 452h128v8h-128zM1310 460h112v8h-112zM1310 468h96v8h-96zM1310 476h72v8h-72z"/>
<path fill="#1f1f1f" d="M1310 84h72v8h-72zM1310 92h88v8h-88zM1350 100h64v8h-64zM1382 108h40v8h-40zM1398 116h32v8h-32zM1406 124h32v8h-32zM1414 132h32v8h-32zM1422 140h32v8h-32zM1430 148h32v8h-32zM1438 156h24v8h-24zM1446 164h24v8h-24zM1446 172h24v8h-24zM1454 180h16v8h-16zM1454 188h24v8h-24zM1454 196h24v8h-24zM1454 204h24v8h-24zM1454 212h24v8h-24zM1454 220h24v8h-24zM1454 228h24v8h-24zM1454 236h24v8h-24zM1454 244h24v8h-24zM1454 252h24v8h-24zM1454 260h24v8h-24zM1454 268h24v8h-24zM1454 276h24v8h-24zM1454 284h24v8h-24zM1454 292h24v8h-24zM1454 300h24v8h-24zM1454 308h24v8h-24zM1454 316h24v8h-24zM1454 324h24v8h-24zM1454 332h24v8h-24zM1454 340h24v8h-24zM1454 348h16v8h-16zM1446 356h24v8h-24zM1446 364h24v8h-24zM1438 372h24v8h-24zM1430 380h32v8h-32zM1422 388h32v8h-32zM1414 396h32v8h-32zM1406 404h32v8h-32zM1398 412h32v8h-32zM1382 420h40v8h-40zM1350 428h64v8h-64zM1310 436h88v8h-88zM1310 444h72v8h-72z"/>
<path fill="#202020" d="M1310 100h40v8h-40zM1310 108h72v8h-72zM1310 116h88v8h-88zM1374 124h32v8h-32zM1390 132h24v8h-24zM1398 140h24v8h-24zM1414 148h16v8h-16zM1414 156h24v8h-24zM1422 164h24v8h-24zM1430 172h16v8h-16zM1430 180h24v8h-24zM1438 188h16v8h-16zM1438 196h16v8h-16zM1438 204h16v8h-16zM1438 212h16v8h-16zM1438 220h16v8h-16zM1438 228h16v8h-16zM1438 236h16v8h-16zM1438 244h16v8h-16zM1438 252h16v8h-16zM1438 260h16v8h-16zM1438 268h16v8h-16zM1438 276h16v8h-16zM1438 284h16v8h-16zM1438 292h16v8h-16zM1438 300h16v8h-16zM1438 308h16v8h-16zM1438 316h16v8h-16zM1438 324h16v8h-16zM1438 332h16v8h-16zM1438 340h16v8h-16zM1430 348h24v8h-24zM1430 356h16v8h-16zM1422 364h24v8h-24zM1414 372h24v8h-24zM1414 380h16v8h-16zM1398 388h24v8h-24zM1390 396h24v8h-24zM1374 404h32v8h-32zM1310 412h88v8h-88zM1310 420h72v8h-72zM1310 428h40v8h-40z"/>
<path fill="#212121" d="M1310 124h64v8h-64zM1358 132h32v8h-32zM1374 140h24v8h-24zM1390 148h24v8h-24zM1398 156h16v8h-16zM1406 164h16v8h-16zM1414 172h16v8h-16zM1414 180h16v8h-16zM1422 188h16v8h-16zM1422 196h16v8h-16zM1422 204h16v8h-16zM1430 212h8v8h-8zM1430 220h8v8h-8zM1430 228h8v8h-8zM1430 236h8v8h-8zM1430 244h8v8h-8zM1430 252h8v8h-8zM1430 260h8v8h-8zM1430 268h8v8h-8zM1430 276h8v8h-8zM1430 284h8v8h-8zM1430 292h8v8h-8zM1430 300h8v8h-8zM1430 308h8v8h-8zM1430 316h8v8h-8zM1422 324h16v8h-16zM1422 332h16v8h-16zM1422 340h16v8h-16zM1414 348h16v8h-16zM1414 356h16v8h-16zM1406 364h16v8h-16zM1398 372h16v8h-16zM1390 380h24v8h-24zM1374 388h24v8h-24zM1358 396h32v8h-32zM1310 404h64v8h-64z"/>
<path fill="#222222" d="M1310 132h48v8h-48zM1310 140h64v8h-64zM1366 148h24v8h-24zM1382 156h16v8h-16zM1390 164h16v8h-16zM1398 172h16v8h-16zM1406 180h8v8h-8zM1406 188h16v8h-16zM1414 196h8v8h-8zM1414 204h8v8h-8zM1414 212h16v8h-16zM1414 220h16v8h-16zM1414 228h16v8h-16zM1414 236h16v8h-16zM1414 244h16v8h-16zM1414 252h16v8h-16zM1414 260h16v8h-16zM1414 268h16v8h-16zM1414 276h16v8h-16zM1414 284h16v8h-16zM1414 292h16v8h-16zM1414 300h16v8h-16zM1414 308h16v8h-16zM1414 316h16v8h-16zM1414 324h8v8h-8zM1414 332h8v8h-8zM1406 340h16v8h-16zM1406 348h8v8h-8zM1398 356h16v8h-16zM1390 364h16v8h-16zM1382 372h16v8h-16zM1366 380h24v8h-24zM1310 388h64v8h-64zM1310 396h48v8h-48z"/>
<path fill="#232323" d="M1310 148h56v8h-56zM1358 156h24v8h-24zM1374 164h16v8h-16zM1382 172h16v8h-16zM1390 180h16v8h-16zM1398 188h8v8h-8zM1398 196h16v8h-16zM1406 204h8v8h-8zM1406 212h8v8h-8zM1406 220h8v8h-8zM1406 228h8v8h-8zM1406 236h8v8h-8zM1406 244h8v8h-8zM1406 252h8v8h-8zM1406 260h8v8h-8zM1406 268h8v8h-8zM1406 276h8v8h-8zM1406 284h8v8h-8zM1406 292h8v8h-8zM1406 300h8v8h-8zM1406 308h8v8h-8zM1406 316h8v8h-8zM1406 324h8v8h-8zM1398 332h16v8h-16zM1398 340h8v8h-8zM1390 348h16v8h-16zM1382 356h16v8h-16zM1374 364h16v8h-16zM1358 372h24v8h-24zM1310 380h56v8h-56z"/>
<path fill="#242424" d="M1310 156h48v8h-48zM1358 164h16v8h-16zM1374 172h8v8h-8zM1382 180h8v8h-8zM1390 188h8v8h-8zM1390 196h8v8h-8zM1398 204h8v8h-8zM1398 212h8v8h-8zM1398 220h8v8h-8zM1398 228h8v8h-8zM1398 236h8v8h-8zM1398 244h8v8h-8zM1398 252h8v8h-8zM1398 260h8v8h-8zM1398 268h8v8h-8zM1398 276h8v8h-8zM1398 284h8v8h-8zM1398 292h8v8h-8zM1398 300h8v8h-8zM1398 308h8v8h-8zM1398 316h8v8h-8zM1398 324h8v8h-8zM1390 332h8v8h-8zM1390 340h8v8h-8zM1382 348h8v8h-8zM1374 356h8v8h-8zM1358 364h16v8h-16zM1310 372h48v8h-48z"/>
<path fill="#252525" d="M1310 164h48v8h-48zM1358 172h16v8h-16zM1366 180h16v8h-16zM1374 188h16v8h-16zM1382 196h8v8h-8zM1390 204h8v8h-8zM1390 212h8v8h-8zM1390 220h8v8h-8zM1390 228h8v8h-8zM1390 236h8v8h-8zM1390 244h8v8h-8zM1390 252h8v8h-8zM1390 260h8v8h-8zM1390 268h8v8h-8zM1390 276h8v8h-8zM1390 284h8v8h-8zM1390 292h8v8h-8zM1390 300h8v8h-8zM1390 308h8v8h-8zM1390 316h8v8h-8zM1390 324h8v8h-8zM1382 332h8v8h-8zM1374 340h16v8h-16zM1366 348h16v8h-16zM1358 356h16v8h-16zM1310 364h48v8h-48z"/>
<path fill="#262626" d="M1310 172h48v8h-48zM1358 180h8v8h-8zM1366 188h8v8h-8zM1374 196h8v8h-8zM1382 204h8v8h-8zM1382 212h8v8h-8zM1382 220h8v8h-8zM1382 228h8v8h-8zM1382 236h8v8h-8zM1382 244h8v8h-8zM1382 252h8v8h-8zM1382 260h8v8h-8zM1382 268h8v8h-8zM1382 276h8v8h-8zM1382 284h8v8h-8zM1382 292h8v8h-8zM1382 300h8v8h-8zM1382 308h8v8h-8zM1382 316h8v8h-8zM1382 324h8v8h-8zM1374 332h8v8h-8zM1366 340h8v8h-8zM1358 348h8v8h-8zM1310 356h48v8h-48z"/>
<path fill="#272727" d="M1310 180h48v8h-48zM1358 188h8v8h-8zM1366 196h8v8h-8zM1374 204h8v8h-8zM1374 212h8v8h-8zM1374 220h8v8h-8zM1374 228h8v8h-8zM1374 236h8v8h-8zM1374 244h8v8h-8zM1374 252h8v8h-8zM1374 260h8v8h-8zM1374 268h8v8h-8zM1374 276h8v8h-8zM1374 284h8v8h-8zM1374 292h8v8h-8zM1374 300h8v8h-8zM1374 308h8v8h-8zM1374 316h8v8h-8zM1374 324h8v8h-8zM1366 332h8v8h-8zM1358 340h8v8h-8zM1310 348h48v8h-48z"/>
<path fill="#282828" d="M1350 188h8v8h-8zM1358 196h8v8h-8zM1366 204h8v8h-8zM1366 212h8v8h-8zM1366 316h8v8h-8zM1366 324h8v8h-8zM1358 332h8v8h-8zM1350 340h8v8h-8z"/>
<path fill="#292929" d="M1310 188h40v8h-40zM1350 196h8v8h-8zM1358 204h8v8h-8zM1366 220h8v8h-8zM1366 228h8v8h-8zM1366 236h8v8h-8zM1366 244h8v8h-8zM1366 252h8v8h-8zM1366 260h8v8h-8zM1366 268h8v8h-8zM1366 276h8v8h-8zM1366 284h8v8h-8zM1366 292h8v8h-8zM1366 300h8v8h-8zM1366 308h8v8h-8zM1358 324h8v8h-8zM1350 332h8v8h-8zM1310 340h40v8h-40z"/>
<path fill="#2a2a2a" d="M1310 196h40v8h-40zM1350 204h8v8h-8zM1358 212h8v8h-8zM1358 220h8v8h-8zM1358 228h8v8h-8zM1358 236h8v8h-8zM1358 244h8v8h-8zM1358 252h8v8h-8zM1358 260h8v8h-8zM1358 268h8v8h-8zM1358 276h8v8h-8zM1358 284h8v8h-8zM1358 292h8v8h-8zM1358 300h8v8h-8zM1358 308h8v8h-8zM1358 316h8v8h-8zM1350 324h8v8h-8zM1310 332h40v8h-40z"/>
<path fill="#2b2b2b" d="M1342 204h8v8h-8zM1350 212h8v8h-8zM1350 316h8v8h-8zM1342 324h8v8h-8z"/>
<path fill="#2c2c2c" d="M1310 204h32v8h-32zM1350 220h8v8h-8zM1350 228h8v8h-8zM1350 236h8v8h-8zM1350 244h8v8h-8zM1350 252h8v8h-8zM1350 260h8v8h-8zM1350 268h8v8h-8zM1350 276h8v8h-8zM1350 284h8v8h-8zM1350 292h8v8h-8zM1350 300h8v8h-8zM1350 308h8v8h-8zM1310 324h32v8h-32z"/>
<path fill="#2d2d2d" d="M1342 212h8v8h-8zM1342 316h8v8h-8z"/>
<path fill="#2e2e2e" d="M1310 212h32v8h-32zM1342 220h8v8h-8zM1342 228h8v8h-8zM1342 236h8v8h-8zM1342 244h8v8h-8zM1342 252h8v8h-8zM1342 260h8v8h-8zM1342 268h8v8h-8zM1342 276h8v8h-8zM1342 284h8v8h-8zM1342 292h8v8h-8zM1342 300h8v8h-8zM1342 308h8v8h-8zM1310 316h32v8h-32z"/>
<path fill="#303030" d="M1310 220h32v8h-32zM1334 228h8v8h-8zM1334 236h8v8h-8zM1334 244h8v8h-8zM1334 252h8v8h-8zM1334 260h8v8h-8zM1334 268h8v8h-8zM1334 276h8v8h-8zM1334 284h8v8h-8zM1334 292h8v8h-8zM1334 300h8v8h-8zM1310 308h32v8h-32z"/>
<path fill="#313131" d="M1310 228h24v8h-24zM1310 236h24v8h-24zM1310 244h24v8h-24zM1310 252h24v8h-24zM1310 260h24v8h-24zM1310 268h24v8h-24zM1310 276h24v8h-24zM1310 284h24v8h-24zM1310 292h24v8h-24zM1310 300h24v8h-24z"/>
</g></g>
<g clip-path="url(#cpS)"><g filter="url(#hm)">
<path fill="#1f1f1f" d="M901.5 -12h72v8h-72zM1285.5 -12h72v8h-72zM901.5 -4h72v8h-72zM1285.5 -4h72v8h-72zM901.5 4h72v8h-72zM1285.5 4h72v8h-72zM901.5 12h72v8h-72zM1285.5 12h72v8h-72zM901.5 20h48v8h-48zM1309.5 20h48v8h-48zM901.5 28h40v8h-40zM1317.5 28h40v8h-40zM901.5 36h32v8h-32zM1325.5 36h32v8h-32zM901.5 44h32v8h-32zM1325.5 44h32v8h-32zM901.5 484h32v8h-32zM1325.5 484h32v8h-32zM901.5 492h32v8h-32zM1325.5 492h32v8h-32zM901.5 500h32v8h-32zM1325.5 500h32v8h-32z"/>
<path fill="#202020" d="M973.5 -12h312v8h-312zM973.5 -4h312v8h-312zM973.5 4h312v8h-312zM973.5 12h312v8h-312zM949.5 20h48v8h-48zM1261.5 20h48v8h-48zM941.5 28h32v8h-32zM1285.5 28h32v8h-32zM933.5 36h24v8h-24zM1301.5 36h24v8h-24zM933.5 44h16v8h-16zM1309.5 44h16v8h-16zM901.5 52h40v8h-40zM1317.5 52h40v8h-40zM901.5 60h32v8h-32zM1325.5 60h32v8h-32zM901.5 68h32v8h-32zM1325.5 68h32v8h-32zM901.5 452h32v8h-32zM1325.5 452h32v8h-32zM901.5 460h40v8h-40zM1325.5 460h32v8h-32zM901.5 468h40v8h-40zM1317.5 468h40v8h-40zM901.5 476h48v8h-48zM1309.5 476h48v8h-48zM933.5 484h16v8h-16zM1309.5 484h16v8h-16zM933.5 492h16v8h-16zM1309.5 492h16v8h-16zM933.5 500h16v8h-16zM1309.5 500h16v8h-16zM901.5 508h40v8h-40zM1317.5 508h40v8h-40zM901.5 516h32v8h-32zM1325.5 516h32v8h-32zM901.5 524h32v8h-32zM1325.5 524h32v8h-32zM901.5 532h32v8h-32zM1325.5 532h32v8h-32zM901.5 540h32v8h-32zM1325.5 540h32v8h-32z"/>
<path fill="#212121" d="M997.5 20h80v8h-80zM1181.5 20h80v8h-80zM973.5 28h32v8h-32zM1253.5 28h32v8h-32zM957.5 36h24v8h-24zM1277.5 36h24v8h-24zM949.5 44h16v8h-16zM1293.5 44h16v8h-16zM941.5 52h16v8h-16zM1301.5 52h16v8h-16zM933.5 60h16v8h-16zM1309.5 60h16v8h-16zM933.5 68h8v8h-8zM1317.5 68h8v8h-8zM901.5 76h32v8h-32zM1325.5 76h32v8h-32zM901.5 84h32v8h-32zM1325.5 84h32v8h-32zM901.5 92h32v8h-32zM1325.5 92h32v8h-32zM901.5 428h32v8h-32zM1325.5 428h32v8h-32zM901.5 436h32v8h-32zM1325.5 436h32v8h-32zM901.5 444h40v8h-40zM1317.5 444h40v8h-40zM933.5 452h8v8h-8zM1317.5 452h8v8h-8zM941.5 460h8v8h-8zM1309.5 460h16v8h-16zM941.5 468h16v8h-16zM1301.5 468h16v8h-16zM949.5 476h16v8h-16zM1293.5 476h16v8h-16zM949.5 484h16v8h-16zM1293.5 484h16v8h-16zM949.5 492h24v8h-24zM1285.5 492h24v8h-24zM949.5 500h24v8h-24zM1285.5 500h24v8h-24zM941.5 508h24v8h-24zM1293.5 508h24v8h-24zM933.5 516h16v8h-16zM1309.5 516h16v8h-16zM933.5 524h16v8h-16zM1309.5 524h16v8h-16zM933.5 532h16v8h-16zM1309.5 532h16v8h-16zM933.5 540h16v8h-16zM1309.5 540h16v8h-16z"/>
<path fill="#222222" d="M1077.5 20h104v8h-104zM1005.5 28h40v8h-40zM1221.5 28h32v8h-32zM981.5 36h24v8h-24zM1253.5 36h24v8h-24zM965.5 44h16v8h-16zM1277.5 44h16v8h-16zM957.5 52h8v8h-8zM1293.5 52h8v8h-8zM949.5 60h8v8h-8zM1301.5 60h8v8h-8zM941.5 68h8v8h-8zM1309.5 68h8v8h-8zM933.5 76h8v8h-8zM1317.5 76h8v8h-8zM933.5 84h8v8h-8zM1317.5 84h8v8h-8zM901.5 100h32v8h-32zM1325.5 100h32v8h-32zM901.5 108h32v8h-32zM1325.5 108h32v8h-32zM901.5 420h32v8h-32zM1325.5 420h32v8h-32zM933.5 436h8v8h-8zM1317.5 436h8v8h-8zM941.5 444h8v8h-8zM1309.5 444h8v8h-8zM941.5 452h16v8h-16zM1301.5 452h16v8h-16zM949.5 460h16v8h-16zM1293.5 460h16v8h-16zM957.5 468h16v8h-16zM1285.5 468h16v8h-16zM965.5 476h16v8h-16zM1277.5 476h16v8h-16zM965.5 484h24v8h-24zM1269.5 484h24v8h-24zM973.5 492h24v8h-24zM1261.5 492h24v8h-24zM973.5 500h32v8h-32zM1253.5 500h32v8h-32zM965.5 508h40v8h-40zM1253.5 508h40v8h-40zM949.5 516h56v8h-56zM1253.5 516h56v8h-56zM949.5 524h56v8h-56zM1253.5 524h56v8h-56zM949.5 532h56v8h-56zM1253.5 532h56v8h-56zM949.5 540h56v8h-56zM1253.5 540h56v8h-56z"/>
<path fill="#232323" d="M1045.5 28h72v8h-72zM1141.5 28h80v8h-80zM1005.5 36h24v8h-24zM1229.5 36h24v8h-24zM981.5 44h16v8h-16zM1261.5 44h16v8h-16zM965.5 52h16v8h-16zM1277.5 52h16v8h-16zM957.5 60h8v8h-8zM1293.5 60h8v8h-8zM949.5 68h8v8h-8zM1301.5 68h8v8h-8zM941.5 76h8v8h-8zM1309.5 76h8v8h-8zM941.5 84h8v8h-8zM1309.5 84h8v8h-8zM933.5 92h8v8h-8zM1317.5 92h8v8h-8zM901.5 116h32v8h-32zM1325.5 116h32v8h-32zM901.5 404h32v8h-32zM1325.5 404h32v8h-32zM901.5 412h32v8h-32zM1325.5 412h32v8h-32zM933.5 420h8v8h-8zM1317.5 420h8v8h-8zM933.5 428h8v8h-8zM1317.5 428h8v8h-8zM941.5 436h8v8h-8zM1309.5 436h8v8h-8zM949.5 444h8v8h-8zM1301.5 444h8v8h-8zM957.5 452h8v8h-8zM1293.5 452h8v8h-8zM965.5 460h8v8h-8zM1285.5 460h8v8h-8zM973.5 468h8v8h-8zM1277.5 468h8v8h-8zM981.5 476h16v8h-16zM1261.5 476h16v8h-16zM989.5 484h16v8h-16zM1253.5 484h16v8h-16zM997.5 492h24v8h-24zM1237.5 492h24v8h-24zM1005.5 500h40v8h-40zM1213.5 500h40v8h-40zM1005.5 508h88v8h-88zM1165.5 508h88v8h-88zM1005.5 516h248v8h-248zM1005.5 524h248v8h-248zM1005.5 532h248v8h-248zM1005.5 540h248v8h-248z"/>
<path fill="#242424" d="M1117.5 28h24v8h-24zM1029.5 36h32v8h-32zM1197.5 36h32v8h-32zM997.5 44h16v8h-16zM1245.5 44h16v8h-16zM981.5 52h16v8h-16zM1261.5 52h16v8h-16zM965.5 60h16v8h-16zM1277.5 60h16v8h-16zM957.5 68h8v8h-8zM1293.5 68h8v8h-8zM949.5 76h8v8h-8zM1301.5 76h8v8h-8zM941.5 92h8v8h-8zM1309.5 92h8v8h-8zM933.5 100h8v8h-8zM1317.5 100h8v8h-8zM933.5 108h8v8h-8zM901.5 124h32v8h-32zM1325.5 124h32v8h-32zM901.5 396h32v8h-32zM1325.5 396h32v8h-32zM933.5 412h8v8h-8zM1317.5 412h8v8h-8zM941.5 428h8v8h-8zM1309.5 428h8v8h-8zM949.5 436h8v8h-8zM1301.5 436h8v8h-8zM957.5 444h8v8h-8zM1293.5 444h8v8h-8zM965.5 452h8v8h-8zM1285.5 452h8v8h-8zM973.5 460h16v8h-16zM1269.5 460h16v8h-16zM981.5 468h16v8h-16zM1261.5 468h16v8h-16zM997.5 476h16v8h-16zM1245.5 476h16v8h-16zM1005.5 484h32v8h-32zM1221.5 484h32v8h-32zM1021.5 492h48v8h-48zM1189.5 492h48v8h-48zM1045.5 500h168v8h-168zM1093.5 508h72v8h-72z"/>
<path fill="#252525" d="M1061.5 36h136v8h-136zM1013.5 44h24v8h-24zM1221.5 44h24v8h-24zM997.5 52h8v8h-8zM1253.5 52h8v8h-8zM981.5 60h8v8h-8zM1269.5 60h8v8h-8zM965.5 68h8v8h-8zM1285.5 68h8v8h-8zM957.5 76h8v8h-8zM1293.5 76h8v8h-8zM949.5 84h8v8h-8zM1301.5 84h8v8h-8zM941.5 100h8v8h-8zM1309.5 100h8v8h-8zM1317.5 108h8v8h-8zM933.5 116h8v8h-8zM901.5 132h32v8h-32zM1325.5 132h32v8h-32zM901.5 388h32v8h-32zM1325.5 388h32v8h-32zM933.5 404h8v8h-8zM1317.5 404h8v8h-8zM941.5 420h8v8h-8zM1309.5 420h8v8h-8zM949.5 428h8v8h-8zM1301.5 428h8v8h-8zM957.5 436h8v8h-8zM1293.5 436h8v8h-8zM965.5 444h8v8h-8zM1285.5 444h8v8h-8zM973.5 452h8v8h-8zM1277.5 452h8v8h-8zM989.5 460h8v8h-8zM1261.5 460h8v8h-8zM997.5 468h16v8h-16zM1245.5 468h16v8h-16zM1013.5 476h24v8h-24zM1221.5 476h24v8h-24zM1037.5 484h32v8h-32zM1189.5 484h32v8h-32zM1069.5 492h120v8h-120z"/>
<path fill="#262626" d="M1037.5 44h24v8h-24zM1197.5 44h24v8h-24zM1005.5 52h16v8h-16zM1237.5 52h16v8h-16zM989.5 60h16v8h-16zM1253.5 60h16v8h-16zM973.5 68h16v8h-16zM1269.5 68h16v8h-16zM965.5 76h8v8h-8zM1285.5 76h8v8h-8zM957.5 84h8v8h-8zM1293.5 84h8v8h-8zM949.5 92h8v8h-8zM1301.5 92h8v8h-8zM1317.5 116h8v8h-8zM901.5 140h32v8h-32zM1325.5 140h32v8h-32zM901.5 380h32v8h-32zM1325.5 380h32v8h-32zM941.5 412h8v8h-8zM1309.5 412h8v8h-8zM949.5 420h8v8h-8zM1301.5 420h8v8h-8zM957.5 428h8v8h-8zM1293.5 428h8v8h-8zM965.5 436h8v8h-8zM1285.5 436h8v8h-8zM973.5 444h8v8h-8zM1277.5 444h8v8h-8zM981.5 452h16v8h-16zM1261.5 452h16v8h-16zM997.5 460h16v8h-16zM1245.5 460h16v8h-16zM1013.5 468h16v8h-16zM1229.5 468h16v8h-16zM1037.5 476h24v8h-24zM1197.5 476h24v8h-24zM1069.5 484h120v8h-120z"/>
<path fill="#272727" d="M1061.5 44h56v8h-56zM1141.5 44h56v8h-56zM1021.5 52h24v8h-24zM1213.5 52h24v8h-24zM1005.5 60h8v8h-8zM1245.5 60h8v8h-8zM989.5 68h8v8h-8zM1261.5 68h8v8h-8zM973.5 76h8v8h-8zM1277.5 76h8v8h-8zM965.5 84h8v8h-8zM1285.5 84h8v8h-8zM957.5 92h8v8h-8zM1293.5 92h8v8h-8zM949.5 100h8v8h-8zM1301.5 100h8v8h-8zM941.5 108h8v8h-8zM1309.5 108h8v8h-8zM933.5 124h8v8h-8zM1317.5 124h8v8h-8zM901.5 148h32v8h-32zM1325.5 148h32v8h-32zM901.5 372h32v8h-32zM1325.5 372h32v8h-32zM933.5 396h8v8h-8zM1317.5 396h8v8h-8zM941.5 404h8v8h-8zM1309.5 404h8v8h-8zM973.5 436h8v8h-8zM1277.5 436h8v8h-8zM981.5 444h8v8h-8zM1269.5 444h8v8h-8zM997.5 452h8v8h-8zM1253.5 452h8v8h-8zM1013.5 460h16v8h-16zM1229.5 460h16v8h-16zM1029.5 468h24v8h-24zM1205.5 468h24v8h-24zM1061.5 476h56v8h-56zM1141.5 476h56v8h-56z"/>
<path fill="#282828" d="M1117.5 44h24v8h-24zM1045.5 52h16v8h-16zM1197.5 52h16v8h-16zM1013.5 60h16v8h-16zM1229.5 60h16v8h-16zM997.5 68h8v8h-8zM1253.5 68h8v8h-8zM981.5 76h8v8h-8zM1269.5 76h8v8h-8zM941.5 116h8v8h-8zM1309.5 116h8v8h-8zM933.5 132h8v8h-8zM1317.5 132h8v8h-8zM901.5 156h32v8h-32zM1325.5 156h32v8h-32zM933.5 388h8v8h-8zM1317.5 388h8v8h-8zM949.5 412h8v8h-8zM1301.5 412h8v8h-8zM957.5 420h8v8h-8zM1293.5 420h8v8h-8zM965.5 428h8v8h-8zM1285.5 428h8v8h-8zM981.5 436h8v8h-8zM1269.5 436h8v8h-8zM989.5 444h8v8h-8zM1261.5 444h8v8h-8zM1005.5 452h16v8h-16zM1237.5 452h16v8h-16zM1029.5 460h16v8h-16zM1213.5 460h16v8h-16zM1053.5 468h32v8h-32zM1173.5 468h32v8h-32zM1117.5 476h24v8h-24z"/>
<path fill="#292929" d="M1061.5 52h40v8h-40zM1165.5 52h32v8h-32zM1029.5 60h16v8h-16zM1213.5 60h16v8h-16zM1005.5 68h8v8h-8zM1245.5 68h8v8h-8zM989.5 76h8v8h-8zM1261.5 76h8v8h-8zM973.5 84h8v8h-8zM1277.5 84h8v8h-8zM965.5 92h8v8h-8zM1285.5 92h8v8h-8zM957.5 100h8v8h-8zM1293.5 100h8v8h-8zM949.5 108h8v8h-8zM1301.5 108h8v8h-8zM941.5 124h8v8h-8zM1309.5 124h8v8h-8zM933.5 140h8v8h-8zM1317.5 140h8v8h-8zM901.5 364h32v8h-32zM1325.5 364h32v8h-32zM941.5 396h8v8h-8zM1309.5 396h8v8h-8zM965.5 420h8v8h-8zM1285.5 420h8v8h-8zM973.5 428h8v8h-8zM1277.5 428h8v8h-8zM989.5 436h8v8h-8zM1261.5 436h8v8h-8zM997.5 444h16v8h-16zM1245.5 444h16v8h-16zM1021.5 452h8v8h-8zM1229.5 452h8v8h-8zM1045.5 460h16v8h-16zM1197.5 460h16v8h-16zM1085.5 468h88v8h-88z"/>
<path fill="#2a2a2a" d="M1101.5 52h64v8h-64zM1045.5 60h16v8h-16zM1197.5 60h16v8h-16zM1013.5 68h16v8h-16zM1229.5 68h16v8h-16zM997.5 76h8v8h-8zM1253.5 76h8v8h-8zM981.5 84h8v8h-8zM1269.5 84h8v8h-8zM973.5 92h8v8h-8zM1277.5 92h8v8h-8zM949.5 116h8v8h-8zM1301.5 116h8v8h-8zM901.5 164h32v8h-32zM1325.5 164h32v8h-32zM901.5 356h32v8h-32zM933.5 380h8v8h-8zM1317.5 380h8v8h-8zM949.5 404h8v8h-8zM1301.5 404h8v8h-8zM957.5 412h8v8h-8zM1293.5 412h8v8h-8zM981.5 428h8v8h-8zM1269.5 428h8v8h-8zM997.5 436h8v8h-8zM1253.5 436h8v8h-8zM1013.5 444h8v8h-8zM1237.5 444h8v8h-8zM1029.5 452h16v8h-16zM1213.5 452h16v8h-16zM1061.5 460h32v8h-32zM1173.5 460h24v8h-24z"/>
<path fill="#2b2b2b" d="M1061.5 60h24v8h-24zM1173.5 60h24v8h-24zM1029.5 68h8v8h-8zM1221.5 68h8v8h-8zM1005.5 76h8v8h-8zM1245.5 76h8v8h-8zM989.5 84h8v8h-8zM1261.5 84h8v8h-8zM965.5 100h8v8h-8zM1285.5 100h8v8h-8zM957.5 108h8v8h-8zM1293.5 108h8v8h-8zM941.5 132h8v8h-8zM1309.5 132h8v8h-8zM933.5 148h8v8h-8zM1317.5 148h8v8h-8zM901.5 172h32v8h-32zM1325.5 172h32v8h-32zM1325.5 356h32v8h-32zM933.5 372h8v8h-8zM1317.5 372h8v8h-8zM941.5 388h8v8h-8zM1309.5 388h8v8h-8zM949.5 396h8v8h-8zM965.5 412h8v8h-8zM1285.5 412h8v8h-8zM973.5 420h8v8h-8zM1277.5 420h8v8h-8zM989.5 428h8v8h-8zM1261.5 428h8v8h-8zM1005.5 436h8v8h-8zM1245.5 436h8v8h-8zM1021.5 444h8v8h-8zM1229.5 444h8v8h-8zM1045.5 452h16v8h-16zM1197.5 452h16v8h-16zM1093.5 460h80v8h-80z"/>
<path fill="#2c2c2c" d="M1085.5 60h88v8h-88zM1037.5 68h16v8h-16zM1205.5 68h16v8h-16zM1013.5 76h8v8h-8zM1237.5 76h8v8h-8zM997.5 84h8v8h-8zM1253.5 84h8v8h-8zM981.5 92h8v8h-8zM1269.5 92h8v8h-8zM973.5 100h8v8h-8zM1277.5 100h8v8h-8zM949.5 124h8v8h-8zM1301.5 124h8v8h-8zM901.5 348h32v8h-32zM1325.5 348h32v8h-32zM1301.5 396h8v8h-8zM957.5 404h8v8h-8zM1293.5 404h8v8h-8zM981.5 420h8v8h-8zM1269.5 420h8v8h-8zM1013.5 436h8v8h-8zM1237.5 436h8v8h-8zM1029.5 444h16v8h-16zM1213.5 444h16v8h-16zM1061.5 452h24v8h-24zM1173.5 452h24v8h-24z"/>
<path fill="#2d2d2d" d="M1053.5 68h16v8h-16zM1189.5 68h16v8h-16zM1021.5 76h16v8h-16zM1221.5 76h16v8h-16zM1005.5 84h8v8h-8zM1245.5 84h8v8h-8zM989.5 92h8v8h-8zM1261.5 92h8v8h-8zM965.5 108h8v8h-8zM1285.5 108h8v8h-8zM957.5 116h8v8h-8zM1293.5 116h8v8h-8zM941.5 140h8v8h-8zM1309.5 140h8v8h-8zM933.5 156h8v8h-8zM1317.5 156h8v8h-8zM901.5 180h32v8h-32zM1325.5 180h32v8h-32zM941.5 380h8v8h-8zM1309.5 380h8v8h-8zM973.5 412h8v8h-8zM1277.5 412h8v8h-8zM997.5 428h8v8h-8zM1253.5 428h8v8h-8zM1021.5 436h8v8h-8zM1229.5 436h8v8h-8zM1045.5 444h16v8h-16zM1205.5 444h8v8h-8zM1085.5 452h88v8h-88z"/>
<path fill="#2e2e2e" d="M1069.5 68h24v8h-24zM1165.5 68h24v8h-24zM1037.5 76h8v8h-8zM1213.5 76h8v8h-8zM1013.5 84h8v8h-8zM1237.5 84h8v8h-8zM997.5 92h8v8h-8zM1253.5 92h8v8h-8zM981.5 100h8v8h-8zM1269.5 100h8v8h-8zM949.5 132h8v8h-8zM1301.5 132h8v8h-8zM933.5 364h8v8h-8zM1317.5 364h8v8h-8zM949.5 388h8v8h-8zM1301.5 388h8v8h-8zM957.5 396h8v8h-8zM1293.5 396h8v8h-8zM965.5 404h8v8h-8zM1285.5 404h8v8h-8zM989.5 420h8v8h-8zM1261.5 420h8v8h-8zM1005.5 428h8v8h-8zM1245.5 428h8v8h-8zM1029.5 436h8v8h-8zM1221.5 436h8v8h-8zM1061.5 444h16v8h-16zM1181.5 444h24v8h-24z"/>
<path fill="#2f2f2f" d="M1093.5 68h72v8h-72zM1045.5 76h8v8h-8zM1205.5 76h8v8h-8zM1021.5 84h8v8h-8zM1229.5 84h8v8h-8zM973.5 108h8v8h-8zM1277.5 108h8v8h-8zM965.5 116h8v8h-8zM1285.5 116h8v8h-8zM957.5 124h8v8h-8zM1293.5 124h8v8h-8zM941.5 148h8v8h-8zM1309.5 148h8v8h-8zM933.5 164h8v8h-8zM1317.5 164h8v8h-8zM901.5 188h32v8h-32zM1325.5 188h32v8h-32zM901.5 340h32v8h-32zM1325.5 340h32v8h-32zM941.5 372h8v8h-8zM981.5 412h8v8h-8zM1269.5 412h8v8h-8zM997.5 420h8v8h-8zM1253.5 420h8v8h-8zM1013.5 428h8v8h-8zM1237.5 428h8v8h-8zM1037.5 436h16v8h-16zM1213.5 436h8v8h-8zM1077.5 444h24v8h-24zM1157.5 444h24v8h-24z"/>
<path fill="#303030" d="M1053.5 76h16v8h-16zM1189.5 76h16v8h-16zM1029.5 84h8v8h-8zM1221.5 84h8v8h-8zM1005.5 92h8v8h-8zM1245.5 92h8v8h-8zM989.5 100h8v8h-8zM1261.5 100h8v8h-8zM981.5 108h8v8h-8zM933.5 356h8v8h-8zM1317.5 356h8v8h-8zM1309.5 372h8v8h-8zM949.5 380h8v8h-8zM1301.5 380h8v8h-8zM965.5 396h8v8h-8zM1285.5 396h8v8h-8zM973.5 404h8v8h-8zM1277.5 404h8v8h-8zM989.5 412h8v8h-8zM1005.5 420h8v8h-8zM1245.5 420h8v8h-8zM1021.5 428h8v8h-8zM1229.5 428h8v8h-8zM1053.5 436h8v8h-8zM1197.5 436h16v8h-16zM1101.5 444h56v8h-56z"/>
<path fill="#313131" d="M1069.5 76h24v8h-24zM1165.5 76h24v8h-24zM1037.5 84h8v8h-8zM1213.5 84h8v8h-8zM1013.5 92h8v8h-8zM1237.5 92h8v8h-8zM997.5 100h8v8h-8zM1253.5 100h8v8h-8zM1269.5 108h8v8h-8zM973.5 116h8v8h-8zM1277.5 116h8v8h-8zM957.5 132h8v8h-8zM1293.5 132h8v8h-8zM949.5 140h8v8h-8zM1301.5 140h8v8h-8zM901.5 332h32v8h-32zM1325.5 332h32v8h-32zM957.5 388h8v8h-8zM1293.5 388h8v8h-8zM1261.5 412h8v8h-8zM1029.5 428h8v8h-8zM1221.5 428h8v8h-8zM1061.5 436h16v8h-16zM1181.5 436h16v8h-16z"/>
<path fill="#323232" d="M1093.5 76h72v8h-72zM1045.5 84h8v8h-8zM1205.5 84h8v8h-8zM1021.5 92h8v8h-8zM1229.5 92h8v8h-8zM989.5 108h8v8h-8zM1261.5 108h8v8h-8zM965.5 124h8v8h-8zM1285.5 124h8v8h-8zM941.5 156h8v8h-8zM1309.5 156h8v8h-8zM933.5 172h8v8h-8zM1317.5 172h8v8h-8zM901.5 196h32v8h-32zM1325.5 196h32v8h-32zM941.5 364h8v8h-8zM1309.5 364h8v8h-8zM981.5 404h8v8h-8zM1269.5 404h8v8h-8zM997.5 412h8v8h-8zM1253.5 412h8v8h-8zM1013.5 420h8v8h-8zM1237.5 420h8v8h-8zM1037.5 428h16v8h-16zM1205.5 428h16v8h-16zM1077.5 436h24v8h-24zM1157.5 436h24v8h-24z"/>
<path fill="#333333" d="M1053.5 84h16v8h-16zM1189.5 84h16v8h-16zM1029.5 92h8v8h-8zM1221.5 92h8v8h-8zM1005.5 100h8v8h-8zM1245.5 100h8v8h-8zM981.5 116h8v8h-8zM1269.5 116h8v8h-8zM949.5 148h8v8h-8zM933.5 348h8v8h-8zM1317.5 348h8v8h-8zM949.5 372h8v8h-8zM965.5 388h8v8h-8zM973.5 396h8v8h-8zM1277.5 396h8v8h-8zM1021.5 420h8v8h-8zM1229.5 420h8v8h-8zM1053.5 428h8v8h-8zM1197.5 428h8v8h-8zM1101.5 436h56v8h-56z"/>
<path fill="#343434" d="M1069.5 84h16v8h-16zM1173.5 84h16v8h-16zM1037.5 92h8v8h-8zM1213.5 92h8v8h-8zM1013.5 100h8v8h-8zM1237.5 100h8v8h-8zM997.5 108h8v8h-8zM1253.5 108h8v8h-8zM973.5 124h8v8h-8zM1277.5 124h8v8h-8zM965.5 132h8v8h-8zM957.5 140h8v8h-8zM1293.5 140h8v8h-8zM1301.5 148h8v8h-8zM901.5 324h32v8h-32zM1325.5 324h32v8h-32zM1301.5 372h8v8h-8zM957.5 380h8v8h-8zM1293.5 380h8v8h-8zM1285.5 388h8v8h-8zM989.5 404h8v8h-8zM1261.5 404h8v8h-8zM1005.5 412h8v8h-8zM1245.5 412h8v8h-8zM1029.5 420h8v8h-8zM1221.5 420h8v8h-8zM1061.5 428h16v8h-16zM1181.5 428h16v8h-16z"/>
<path fill="#353535" d="M1085.5 84h24v8h-24zM1149.5 84h24v8h-24zM1045.5 92h8v8h-8zM1205.5 92h8v8h-8zM1021.5 100h8v8h-8zM1229.5 100h8v8h-8zM989.5 116h8v8h-8zM1285.5 132h8v8h-8zM941.5 164h8v8h-8zM1309.5 164h8v8h-8zM933.5 180h8v8h-8zM1317.5 180h8v8h-8zM901.5 204h32v8h-32zM1325.5 204h32v8h-32zM981.5 396h8v8h-8zM1269.5 396h8v8h-8zM997.5 404h8v8h-8zM1013.5 412h8v8h-8zM1237.5 412h8v8h-8zM1037.5 420h8v8h-8zM1213.5 420h8v8h-8zM1077.5 428h16v8h-16zM1165.5 428h16v8h-16z"/>
<path fill="#363636" d="M1109.5 84h40v8h-40zM1053.5 92h8v8h-8zM1197.5 92h8v8h-8zM1029.5 100h8v8h-8zM1005.5 108h8v8h-8zM1245.5 108h8v8h-8zM1261.5 116h8v8h-8zM933.5 340h8v8h-8zM1317.5 340h8v8h-8zM941.5 356h8v8h-8zM1309.5 356h8v8h-8zM973.5 388h8v8h-8zM1277.5 388h8v8h-8zM1253.5 404h8v8h-8zM1021.5 412h8v8h-8zM1229.5 412h8v8h-8zM1045.5 420h8v8h-8zM1205.5 420h8v8h-8zM1093.5 428h72v8h-72z"/>
<path fill="#373737" d="M1061.5 92h16v8h-16zM1181.5 92h16v8h-16zM1221.5 100h8v8h-8zM1013.5 108h8v8h-8zM1237.5 108h8v8h-8zM997.5 116h8v8h-8zM981.5 124h8v8h-8zM1269.5 124h8v8h-8zM973.5 132h8v8h-8zM1277.5 132h8v8h-8zM949.5 156h8v8h-8zM1301.5 156h8v8h-8zM949.5 364h8v8h-8zM1301.5 364h8v8h-8zM957.5 372h8v8h-8zM1293.5 372h8v8h-8zM965.5 380h8v8h-8zM1285.5 380h8v8h-8zM989.5 396h8v8h-8zM1261.5 396h8v8h-8zM1005.5 404h8v8h-8zM1245.5 404h8v8h-8zM1053.5 420h8v8h-8zM1197.5 420h8v8h-8z"/>
<path fill="#383838" d="M1077.5 92h16v8h-16zM1165.5 92h16v8h-16zM1037.5 100h8v8h-8zM1213.5 100h8v8h-8zM1253.5 116h8v8h-8zM965.5 140h8v8h-8zM1285.5 140h8v8h-8zM957.5 148h8v8h-8zM1293.5 148h8v8h-8zM941.5 172h8v8h-8zM1309.5 172h8v8h-8zM933.5 188h8v8h-8zM1317.5 188h8v8h-8zM901.5 212h32v8h-32zM1325.5 212h32v8h-32zM901.5 316h32v8h-32zM1325.5 316h32v8h-32zM1029.5 412h8v8h-8zM1221.5 412h8v8h-8zM1061.5 420h16v8h-16zM1181.5 420h16v8h-16z"/>
<path fill="#393939" d="M1093.5 92h72v8h-72zM1045.5 100h8v8h-8zM1205.5 100h8v8h-8zM1021.5 108h8v8h-8zM1229.5 108h8v8h-8zM1005.5 116h8v8h-8zM1245.5 116h8v8h-8zM989.5 124h8v8h-8zM1261.5 124h8v8h-8zM941.5 348h8v8h-8zM981.5 388h8v8h-8zM1269.5 388h8v8h-8zM997.5 396h8v8h-8zM1253.5 396h8v8h-8zM1013.5 404h8v8h-8zM1237.5 404h8v8h-8zM1037.5 412h8v8h-8zM1213.5 412h8v8h-8zM1077.5 420h16v8h-16zM1165.5 420h16v8h-16z"/>
<path fill="#3a3a3a" d="M1053.5 100h16v8h-16zM1197.5 100h8v8h-8zM1029.5 108h8v8h-8zM1221.5 108h8v8h-8zM981.5 132h8v8h-8zM1269.5 132h8v8h-8zM949.5 164h8v8h-8zM1301.5 164h8v8h-8zM933.5 332h8v8h-8zM1317.5 332h8v8h-8zM1309.5 348h8v8h-8zM973.5 380h8v8h-8zM1277.5 380h8v8h-8zM1021.5 404h8v8h-8zM1229.5 404h8v8h-8zM1045.5 412h8v8h-8zM1205.5 412h8v8h-8zM1093.5 420h72v8h-72z"/>
<path fill="#3b3b3b" d="M1069.5 100h8v8h-8zM1181.5 100h16v8h-16zM1013.5 116h8v8h-8zM1237.5 116h8v8h-8zM997.5 124h8v8h-8zM1253.5 124h8v8h-8zM973.5 140h8v8h-8zM1277.5 140h8v8h-8zM957.5 156h8v8h-8zM1293.5 156h8v8h-8zM901.5 220h32v8h-32zM901.5 308h32v8h-32zM949.5 356h8v8h-8zM1301.5 356h8v8h-8zM965.5 372h8v8h-8zM1285.5 372h8v8h-8zM989.5 388h8v8h-8zM1005.5 396h8v8h-8zM1245.5 396h8v8h-8zM1053.5 412h8v8h-8zM1197.5 412h8v8h-8z"/>
<path fill="#3c3c3c" d="M1077.5 100h16v8h-16zM1173.5 100h8v8h-8zM1037.5 108h8v8h-8zM1213.5 108h8v8h-8zM965.5 148h8v8h-8zM1285.5 148h8v8h-8zM941.5 180h8v8h-8zM1309.5 180h8v8h-8zM933.5 196h8v8h-8zM1317.5 196h8v8h-8zM1325.5 220h32v8h-32zM901.5 228h32v8h-32zM901.5 236h32v8h-32zM901.5 244h32v8h-32zM901.5 252h32v8h-32zM901.5 260h32v8h-32zM901.5 268h32v8h-32zM901.5 276h32v8h-32zM901.5 284h32v8h-32zM901.5 292h32v8h-32zM901.5 300h32v8h-32zM1325.5 308h32v8h-32zM957.5 364h8v8h-8zM1293.5 364h8v8h-8zM1261.5 388h8v8h-8zM1029.5 404h8v8h-8zM1221.5 404h8v8h-8zM1061.5 412h8v8h-8zM1189.5 412h8v8h-8z"/>
<path fill="#3d3d3d" d="M1093.5 100h16v8h-16zM1149.5 100h24v8h-24zM1045.5 108h8v8h-8zM1205.5 108h8v8h-8zM1021.5 116h8v8h-8zM1229.5 116h8v8h-8zM1005.5 124h8v8h-8zM989.5 132h8v8h-8zM1261.5 132h8v8h-8zM1325.5 228h32v8h-32zM1325.5 236h32v8h-32zM1325.5 244h32v8h-32zM1325.5 252h32v8h-32zM1325.5 260h32v8h-32zM1325.5 268h32v8h-32zM1325.5 276h32v8h-32zM1325.5 284h32v8h-32zM1325.5 292h32v8h-32zM1325.5 300h32v8h-32zM981.5 380h8v8h-8zM1269.5 380h8v8h-8zM1013.5 396h8v8h-8zM1237.5 396h8v8h-8zM1037.5 404h8v8h-8zM1213.5 404h8v8h-8zM1069.5 412h16v8h-16zM1173.5 412h16v8h-16z"/>
<path fill="#3e3e3e" d="M1109.5 100h40v8h-40zM1053.5 108h8v8h-8zM1197.5 108h8v8h-8zM1245.5 124h8v8h-8zM981.5 140h8v8h-8zM1269.5 140h8v8h-8zM949.5 172h8v8h-8zM1301.5 172h8v8h-8zM941.5 340h8v8h-8zM1309.5 340h8v8h-8zM997.5 388h8v8h-8zM1253.5 388h8v8h-8zM1045.5 404h8v8h-8zM1085.5 412h16v8h-16zM1157.5 412h16v8h-16z"/>
<path fill="#3f3f3f" d="M1061.5 108h8v8h-8zM1189.5 108h8v8h-8zM1029.5 116h8v8h-8zM1221.5 116h8v8h-8zM973.5 148h8v8h-8zM1277.5 148h8v8h-8zM957.5 164h8v8h-8zM933.5 324h8v8h-8zM1317.5 324h8v8h-8zM973.5 372h8v8h-8zM1277.5 372h8v8h-8zM1021.5 396h8v8h-8zM1229.5 396h8v8h-8zM1205.5 404h8v8h-8zM1101.5 412h56v8h-56z"/>
<path fill="#404040" d="M1069.5 108h16v8h-16zM1173.5 108h16v8h-16zM1037.5 116h8v8h-8zM1213.5 116h8v8h-8zM1013.5 124h8v8h-8zM1237.5 124h8v8h-8zM997.5 132h8v8h-8zM1253.5 132h8v8h-8zM965.5 156h8v8h-8zM1285.5 156h8v8h-8zM1293.5 164h8v8h-8zM941.5 188h8v8h-8zM1309.5 188h8v8h-8zM933.5 204h8v8h-8zM1317.5 204h8v8h-8zM949.5 348h8v8h-8zM1301.5 348h8v8h-8zM957.5 356h8v8h-8zM965.5 364h8v8h-8zM1285.5 364h8v8h-8zM989.5 380h8v8h-8zM1261.5 380h8v8h-8zM1005.5 388h8v8h-8zM1245.5 388h8v8h-8zM1053.5 404h8v8h-8zM1197.5 404h8v8h-8z"/>
<path fill="#414141" d="M1085.5 108h8v8h-8zM1165.5 108h8v8h-8zM1045.5 116h8v8h-8zM1205.5 116h8v8h-8zM1021.5 124h8v8h-8zM989.5 140h8v8h-8zM1293.5 356h8v8h-8zM1029.5 396h8v8h-8zM1221.5 396h8v8h-8zM1061.5 404h16v8h-16zM1189.5 404h8v8h-8z"/>
<path fill="#424242" d="M1093.5 108h32v8h-32zM1133.5 108h32v8h-32zM1229.5 124h8v8h-8zM1005.5 132h8v8h-8zM1245.5 132h8v8h-8zM1261.5 140h8v8h-8zM981.5 372h8v8h-8zM1013.5 388h8v8h-8zM1037.5 396h8v8h-8zM1213.5 396h8v8h-8zM1077.5 404h8v8h-8zM1173.5 404h16v8h-16z"/>
<path fill="#434343" d="M1125.5 108h8v8h-8zM1053.5 116h8v8h-8zM1197.5 116h8v8h-8zM1029.5 124h8v8h-8zM1221.5 124h8v8h-8zM981.5 148h8v8h-8zM1269.5 148h8v8h-8zM949.5 180h8v8h-8zM1301.5 180h8v8h-8zM941.5 332h8v8h-8zM1309.5 332h8v8h-8zM1269.5 372h8v8h-8zM997.5 380h8v8h-8zM1253.5 380h8v8h-8zM1237.5 388h8v8h-8zM1085.5 404h16v8h-16zM1157.5 404h16v8h-16z"/>
<path fill="#444444" d="M1061.5 116h8v8h-8zM1189.5 116h8v8h-8zM1013.5 132h8v8h-8zM1237.5 132h8v8h-8zM997.5 140h8v8h-8zM973.5 156h8v8h-8zM1277.5 156h8v8h-8zM957.5 172h8v8h-8zM1293.5 172h8v8h-8zM933.5 316h8v8h-8zM973.5 364h8v8h-8zM1277.5 364h8v8h-8zM1021.5 388h8v8h-8zM1045.5 396h8v8h-8zM1205.5 396h8v8h-8zM1101.5 404h56v8h-56z"/>
<path fill="#454545" d="M1069.5 116h16v8h-16zM1181.5 116h8v8h-8zM1037.5 124h8v8h-8zM1213.5 124h8v8h-8zM1253.5 140h8v8h-8zM965.5 164h8v8h-8zM1285.5 164h8v8h-8zM941.5 196h8v8h-8zM1309.5 196h8v8h-8zM933.5 212h8v8h-8zM1317.5 212h8v8h-8zM1317.5 316h8v8h-8zM949.5 340h8v8h-8zM1229.5 388h8v8h-8zM1053.5 396h8v8h-8zM1197.5 396h8v8h-8z"/>
<path fill="#464646" d="M1085.5 116h8v8h-8zM1165.5 116h16v8h-16zM1045.5 124h8v8h-8zM1301.5 340h8v8h-8zM957.5 348h8v8h-8zM1293.5 348h8v8h-8zM965.5 356h8v8h-8zM1285.5 356h8v8h-8zM989.5 372h8v8h-8zM1261.5 372h8v8h-8zM1005.5 380h8v8h-8zM1245.5 380h8v8h-8zM1029.5 388h8v8h-8zM1221.5 388h8v8h-8zM1061.5 396h8v8h-8zM1189.5 396h8v8h-8z"/>
<path fill="#474747" d="M1093.5 116h16v8h-16zM1149.5 116h16v8h-16zM1205.5 124h8v8h-8zM1021.5 132h8v8h-8zM1229.5 132h8v8h-8zM1005.5 140h8v8h-8zM1245.5 140h8v8h-8zM989.5 148h8v8h-8zM1261.5 148h8v8h-8zM1069.5 396h8v8h-8zM1181.5 396h8v8h-8z"/>
<path fill="#484848" d="M1109.5 116h40v8h-40zM1053.5 124h8v8h-8zM1197.5 124h8v8h-8zM981.5 156h8v8h-8zM1269.5 156h8v8h-8zM949.5 188h8v8h-8zM981.5 364h8v8h-8zM1013.5 380h8v8h-8zM1237.5 380h8v8h-8zM1037.5 388h8v8h-8zM1213.5 388h8v8h-8zM1077.5 396h8v8h-8zM1173.5 396h8v8h-8z"/>
<path fill="#494949" d="M1061.5 124h8v8h-8zM1189.5 124h8v8h-8zM1029.5 132h8v8h-8zM1221.5 132h8v8h-8zM1301.5 188h8v8h-8zM941.5 324h8v8h-8zM1269.5 364h8v8h-8zM997.5 372h8v8h-8zM1253.5 372h8v8h-8zM1085.5 396h16v8h-16zM1157.5 396h16v8h-16z"/>
<path fill="#4a4a4a" d="M1069.5 124h8v8h-8zM1181.5 124h8v8h-8zM1037.5 132h8v8h-8zM1013.5 140h8v8h-8zM1237.5 140h8v8h-8zM997.5 148h8v8h-8zM1253.5 148h8v8h-8zM973.5 164h8v8h-8zM1277.5 164h8v8h-8zM965.5 172h8v8h-8zM1285.5 172h8v8h-8zM957.5 180h8v8h-8zM1293.5 180h8v8h-8zM1309.5 324h8v8h-8zM1045.5 388h8v8h-8zM1205.5 388h8v8h-8zM1101.5 396h24v8h-24zM1133.5 396h24v8h-24z"/>
<path fill="#4b4b4b" d="M1077.5 124h8v8h-8zM1173.5 124h8v8h-8zM1213.5 132h8v8h-8zM941.5 204h8v8h-8zM1309.5 204h8v8h-8zM933.5 220h8v8h-8zM933.5 308h8v8h-8zM1317.5 308h8v8h-8zM973.5 356h8v8h-8zM1277.5 356h8v8h-8zM1021.5 380h8v8h-8zM1229.5 380h8v8h-8zM1053.5 388h8v8h-8zM1197.5 388h8v8h-8zM1125.5 396h8v8h-8z"/>
<path fill="#4c4c4c" d="M1085.5 124h8v8h-8zM1165.5 124h8v8h-8zM1045.5 132h8v8h-8zM1205.5 132h8v8h-8zM1021.5 140h8v8h-8zM1229.5 140h8v8h-8zM989.5 156h8v8h-8zM1261.5 156h8v8h-8zM1317.5 220h8v8h-8zM949.5 332h8v8h-8zM1301.5 332h8v8h-8zM965.5 348h8v8h-8zM1285.5 348h8v8h-8zM989.5 364h8v8h-8zM1261.5 364h8v8h-8zM1005.5 372h8v8h-8zM1245.5 372h8v8h-8z"/>
<path fill="#4d4d4d" d="M1093.5 124h16v8h-16zM1149.5 124h16v8h-16zM1005.5 148h8v8h-8zM1245.5 148h8v8h-8zM933.5 228h8v8h-8zM933.5 236h8v8h-8zM933.5 244h8v8h-8zM933.5 252h8v8h-8zM933.5 260h8v8h-8zM933.5 268h8v8h-8zM933.5 276h8v8h-8zM933.5 284h8v8h-8zM933.5 292h8v8h-8zM933.5 300h8v8h-8zM957.5 340h8v8h-8zM1293.5 340h8v8h-8zM1029.5 380h8v8h-8zM1221.5 380h8v8h-8zM1061.5 388h8v8h-8zM1189.5 388h8v8h-8z"/>
<path fill="#4e4e4e" d="M1109.5 124h40v8h-40zM1053.5 132h8v8h-8zM1197.5 132h8v8h-8zM981.5 164h8v8h-8zM1269.5 164h8v8h-8zM949.5 196h8v8h-8zM1317.5 228h8v8h-8zM1317.5 236h8v8h-8zM1317.5 244h8v8h-8zM1317.5 252h8v8h-8zM1317.5 260h8v8h-8zM1317.5 268h8v8h-8zM1317.5 276h8v8h-8zM1317.5 284h8v8h-8zM1317.5 292h8v8h-8zM1317.5 300h8v8h-8zM1069.5 388h8v8h-8zM1181.5 388h8v8h-8z"/>
<path fill="#4f4f4f" d="M1061.5 132h8v8h-8zM1189.5 132h8v8h-8zM1029.5 140h8v8h-8zM1221.5 140h8v8h-8zM1301.5 196h8v8h-8zM981.5 356h8v8h-8zM1269.5 356h8v8h-8zM1013.5 372h8v8h-8zM1237.5 372h8v8h-8zM1037.5 380h8v8h-8zM1213.5 380h8v8h-8zM1077.5 388h8v8h-8zM1173.5 388h8v8h-8z"/>
<path fill="#505050" d="M1069.5 132h8v8h-8zM1181.5 132h8v8h-8zM1013.5 148h8v8h-8zM1237.5 148h8v8h-8zM997.5 156h8v8h-8zM1253.5 156h8v8h-8zM973.5 172h8v8h-8zM1277.5 172h8v8h-8zM965.5 180h8v8h-8zM957.5 188h8v8h-8zM1293.5 188h8v8h-8zM997.5 364h8v8h-8zM1253.5 364h8v8h-8zM1085.5 388h16v8h-16zM1157.5 388h16v8h-16z"/>
<path fill="#515151" d="M1077.5 132h8v8h-8zM1037.5 140h8v8h-8zM1213.5 140h8v8h-8zM1285.5 180h8v8h-8zM941.5 316h8v8h-8zM1309.5 316h8v8h-8zM1045.5 380h8v8h-8zM1205.5 380h8v8h-8zM1101.5 388h24v8h-24zM1133.5 388h24v8h-24z"/>
<path fill="#525252" d="M1085.5 132h8v8h-8zM1165.5 132h16v8h-16zM941.5 212h8v8h-8zM1309.5 212h8v8h-8zM973.5 348h8v8h-8zM1277.5 348h8v8h-8zM1021.5 372h8v8h-8zM1229.5 372h8v8h-8zM1053.5 380h8v8h-8zM1197.5 380h8v8h-8zM1125.5 388h8v8h-8z"/>
<path fill="#535353" d="M1093.5 132h8v8h-8zM1157.5 132h8v8h-8zM1045.5 140h8v8h-8zM1205.5 140h8v8h-8zM1021.5 148h8v8h-8zM1229.5 148h8v8h-8zM989.5 164h8v8h-8zM1261.5 164h8v8h-8zM949.5 324h8v8h-8zM965.5 340h8v8h-8z"/>
<path fill="#545454" d="M1101.5 132h56v8h-56zM1053.5 140h8v8h-8zM1005.5 156h8v8h-8zM1245.5 156h8v8h-8zM1301.5 324h8v8h-8zM957.5 332h8v8h-8zM1285.5 340h8v8h-8zM989.5 356h8v8h-8zM1261.5 356h8v8h-8zM1005.5 364h8v8h-8zM1245.5 364h8v8h-8zM1029.5 372h8v8h-8zM1221.5 372h8v8h-8zM1061.5 380h8v8h-8zM1189.5 380h8v8h-8z"/>
<path fill="#555555" d="M1197.5 140h8v8h-8zM1029.5 148h8v8h-8zM1221.5 148h8v8h-8zM981.5 172h8v8h-8zM1269.5 172h8v8h-8zM949.5 204h8v8h-8zM1293.5 332h8v8h-8zM1069.5 380h8v8h-8zM1181.5 380h8v8h-8z"/>
<path fill="#565656" d="M1061.5 140h8v8h-8zM1189.5 140h8v8h-8zM1301.5 204h8v8h-8zM1077.5 380h8v8h-8zM1173.5 380h8v8h-8z"/>
<path fill="#575757" d="M1069.5 140h8v8h-8zM1181.5 140h8v8h-8zM1013.5 156h8v8h-8zM1237.5 156h8v8h-8zM997.5 164h8v8h-8zM1253.5 164h8v8h-8zM973.5 180h8v8h-8zM1277.5 180h8v8h-8zM957.5 196h8v8h-8zM981.5 348h8v8h-8zM1269.5 348h8v8h-8zM1013.5 364h8v8h-8zM1237.5 364h8v8h-8zM1037.5 372h8v8h-8zM1213.5 372h8v8h-8zM1085.5 380h8v8h-8zM1165.5 380h8v8h-8z"/>
<path fill="#585858" d="M1037.5 148h8v8h-8zM1213.5 148h8v8h-8zM965.5 188h8v8h-8zM1285.5 188h8v8h-8zM1293.5 196h8v8h-8zM997.5 356h8v8h-8zM1253.5 356h8v8h-8zM1093.5 380h8v8h-8zM1157.5 380h8v8h-8z"/>
<path fill="#595959" d="M1077.5 140h8v8h-8zM1173.5 140h8v8h-8zM941.5 308h8v8h-8zM1045.5 372h8v8h-8zM1205.5 372h8v8h-8zM1101.5 380h56v8h-56z"/>
<path fill="#5a5a5a" d="M1085.5 140h16v8h-16zM1157.5 140h16v8h-16zM1045.5 148h8v8h-8zM1205.5 148h8v8h-8zM1021.5 156h8v8h-8zM1229.5 156h8v8h-8zM989.5 172h8v8h-8zM1261.5 172h8v8h-8zM941.5 220h8v8h-8zM1309.5 220h8v8h-8zM1309.5 308h8v8h-8zM973.5 340h8v8h-8zM1277.5 340h8v8h-8zM1021.5 364h8v8h-8zM1229.5 364h8v8h-8z"/>
<path fill="#5b5b5b" d="M1101.5 140h8v8h-8zM1149.5 140h8v8h-8zM1005.5 164h8v8h-8zM1245.5 164h8v8h-8zM1053.5 372h8v8h-8zM1197.5 372h8v8h-8z"/>
<path fill="#5c5c5c" d="M1109.5 140h40v8h-40zM1053.5 148h8v8h-8zM1197.5 148h8v8h-8zM949.5 316h8v8h-8zM965.5 332h8v8h-8zM1285.5 332h8v8h-8zM989.5 348h8v8h-8zM1005.5 356h8v8h-8zM1245.5 356h8v8h-8zM1061.5 372h8v8h-8zM1189.5 372h8v8h-8z"/>
<path fill="#5d5d5d" d="M1029.5 156h8v8h-8zM1221.5 156h8v8h-8zM981.5 180h8v8h-8zM1269.5 180h8v8h-8zM941.5 228h8v8h-8zM941.5 236h8v8h-8zM941.5 244h8v8h-8zM941.5 252h8v8h-8zM941.5 260h8v8h-8zM941.5 268h8v8h-8zM941.5 276h8v8h-8zM941.5 284h8v8h-8zM941.5 292h8v8h-8zM941.5 300h8v8h-8zM1301.5 316h8v8h-8zM957.5 324h8v8h-8zM1261.5 348h8v8h-8zM1029.5 364h8v8h-8zM1221.5 364h8v8h-8z"/>
<path fill="#5e5e5e" d="M1061.5 148h8v8h-8zM1189.5 148h8v8h-8zM949.5 212h8v8h-8zM1301.5 212h8v8h-8zM1309.5 228h8v8h-8zM1309.5 236h8v8h-8zM1309.5 244h8v8h-8zM1309.5 252h8v8h-8zM1309.5 260h8v8h-8zM1309.5 268h8v8h-8zM1309.5 276h8v8h-8zM1309.5 284h8v8h-8zM1309.5 292h8v8h-8zM1309.5 300h8v8h-8zM1293.5 324h8v8h-8zM1069.5 372h8v8h-8zM1181.5 372h8v8h-8z"/>
<path fill="#5f5f5f" d="M1069.5 148h8v8h-8zM1181.5 148h8v8h-8zM1013.5 164h8v8h-8zM1237.5 164h8v8h-8zM997.5 172h8v8h-8zM1253.5 172h8v8h-8zM973.5 188h8v8h-8zM1277.5 188h8v8h-8zM1037.5 364h8v8h-8zM1213.5 364h8v8h-8zM1077.5 372h8v8h-8zM1173.5 372h8v8h-8z"/>
<path fill="#606060" d="M1037.5 156h8v8h-8zM1213.5 156h8v8h-8zM965.5 196h8v8h-8zM1285.5 196h8v8h-8zM957.5 204h8v8h-8zM1293.5 204h8v8h-8zM981.5 340h8v8h-8zM1013.5 356h8v8h-8zM1237.5 356h8v8h-8zM1085.5 372h8v8h-8zM1165.5 372h8v8h-8z"/>
<path fill="#616161" d="M1077.5 148h8v8h-8zM1173.5 148h8v8h-8zM1269.5 340h8v8h-8zM997.5 348h8v8h-8zM1253.5 348h8v8h-8zM1093.5 372h8v8h-8zM1157.5 372h8v8h-8z"/>
<path fill="#626262" d="M1085.5 148h8v8h-8zM1165.5 148h8v8h-8zM1045.5 156h8v8h-8zM1205.5 156h8v8h-8zM1021.5 164h8v8h-8zM1229.5 164h8v8h-8zM989.5 180h8v8h-8zM1045.5 364h8v8h-8zM1205.5 364h8v8h-8zM1101.5 372h16v8h-16zM1141.5 372h16v8h-16z"/>
<path fill="#636363" d="M1093.5 148h16v8h-16zM1149.5 148h16v8h-16zM1005.5 172h8v8h-8zM1261.5 180h8v8h-8zM1021.5 356h8v8h-8zM1229.5 356h8v8h-8zM1117.5 372h24v8h-24z"/>
<path fill="#646464" d="M1109.5 148h40v8h-40zM1053.5 156h8v8h-8zM1197.5 156h8v8h-8zM1245.5 172h8v8h-8zM973.5 332h8v8h-8zM1277.5 332h8v8h-8zM1053.5 364h8v8h-8zM1197.5 364h8v8h-8z"/>
<path fill="#656565" d="M1029.5 164h8v8h-8zM981.5 188h8v8h-8z"/>
<path fill="#666666" d="M1061.5 156h8v8h-8zM1189.5 156h8v8h-8zM1221.5 164h8v8h-8zM1269.5 188h8v8h-8zM965.5 324h8v8h-8zM989.5 340h8v8h-8zM1261.5 340h8v8h-8zM1005.5 348h8v8h-8zM1245.5 348h8v8h-8zM1029.5 356h8v8h-8zM1061.5 364h8v8h-8zM1189.5 364h8v8h-8z"/>
<path fill="#676767" d="M949.5 220h8v8h-8zM949.5 308h8v8h-8zM957.5 316h8v8h-8zM1285.5 324h8v8h-8zM1221.5 356h8v8h-8zM1069.5 364h8v8h-8z"/>
<path fill="#686868" d="M1069.5 156h8v8h-8zM1181.5 156h8v8h-8zM1037.5 164h8v8h-8zM1013.5 172h8v8h-8zM1237.5 172h8v8h-8zM997.5 180h8v8h-8zM1253.5 180h8v8h-8zM973.5 196h8v8h-8zM1277.5 196h8v8h-8zM1301.5 220h8v8h-8zM1301.5 308h8v8h-8zM1293.5 316h8v8h-8zM1181.5 364h8v8h-8z"/>
<path fill="#696969" d="M1077.5 156h8v8h-8zM1213.5 164h8v8h-8zM965.5 204h8v8h-8zM957.5 212h8v8h-8zM1037.5 356h8v8h-8zM1077.5 364h8v8h-8zM1173.5 364h8v8h-8z"/>
<path fill="#6a6a6a" d="M1173.5 156h8v8h-8zM1285.5 204h8v8h-8zM1293.5 212h8v8h-8zM1013.5 348h8v8h-8zM1237.5 348h8v8h-8zM1213.5 356h8v8h-8zM1085.5 364h8v8h-8zM1165.5 364h8v8h-8z"/>
<path fill="#6b6b6b" d="M1085.5 156h8v8h-8zM1165.5 156h8v8h-8zM1045.5 164h8v8h-8zM1205.5 164h8v8h-8zM1021.5 172h8v8h-8zM949.5 228h8v8h-8zM949.5 236h8v8h-8zM949.5 244h8v8h-8zM949.5 252h8v8h-8zM949.5 260h8v8h-8zM949.5 268h8v8h-8zM949.5 276h8v8h-8zM949.5 284h8v8h-8zM949.5 292h8v8h-8zM949.5 300h8v8h-8zM981.5 332h8v8h-8zM1269.5 332h8v8h-8zM1093.5 364h8v8h-8zM1157.5 364h8v8h-8z"/>
<path fill="#6c6c6c" d="M1093.5 156h8v8h-8zM1157.5 156h8v8h-8zM1229.5 172h8v8h-8zM989.5 188h8v8h-8zM1261.5 188h8v8h-8zM1301.5 228h8v8h-8zM1301.5 236h8v8h-8zM1301.5 244h8v8h-8zM1301.5 252h8v8h-8zM1301.5 260h8v8h-8zM1301.5 268h8v8h-8zM1301.5 276h8v8h-8zM1301.5 284h8v8h-8zM1301.5 292h8v8h-8zM1301.5 300h8v8h-8zM997.5 340h8v8h-8zM1253.5 340h8v8h-8zM1045.5 356h8v8h-8zM1205.5 356h8v8h-8zM1101.5 364h8v8h-8zM1149.5 364h8v8h-8z"/>
<path fill="#6d6d6d" d="M1101.5 156h16v8h-16zM1141.5 156h16v8h-16zM1005.5 180h8v8h-8zM1245.5 180h8v8h-8zM1109.5 364h40v8h-40z"/>
<path fill="#6e6e6e" d="M1117.5 156h24v8h-24zM1053.5 164h8v8h-8zM1197.5 164h8v8h-8zM1021.5 348h8v8h-8zM1229.5 348h8v8h-8z"/>
<path fill="#6f6f6f" d="M1029.5 172h8v8h-8zM1221.5 172h8v8h-8zM981.5 196h8v8h-8zM973.5 324h8v8h-8zM1277.5 324h8v8h-8zM1053.5 356h8v8h-8zM1197.5 356h8v8h-8z"/>
<path fill="#707070" d="M1061.5 164h8v8h-8zM1189.5 164h8v8h-8zM1269.5 196h8v8h-8z"/>
<path fill="#717171" d="M1013.5 180h8v8h-8zM989.5 332h8v8h-8zM1005.5 340h8v8h-8zM1245.5 340h8v8h-8zM1061.5 356h8v8h-8zM1189.5 356h8v8h-8z"/>
<path fill="#727272" d="M1069.5 164h8v8h-8zM1181.5 164h8v8h-8zM1037.5 172h8v8h-8zM1237.5 180h8v8h-8zM997.5 188h8v8h-8zM1253.5 188h8v8h-8zM973.5 204h8v8h-8zM965.5 316h8v8h-8zM1285.5 316h8v8h-8zM1261.5 332h8v8h-8zM1029.5 348h8v8h-8zM1221.5 348h8v8h-8z"/>
<path fill="#737373" d="M1077.5 164h8v8h-8zM1213.5 172h8v8h-8zM1277.5 204h8v8h-8zM1069.5 356h8v8h-8zM1181.5 356h8v8h-8z"/>
<path fill="#747474" d="M1173.5 164h8v8h-8zM965.5 212h8v8h-8zM1285.5 212h8v8h-8zM957.5 220h8v8h-8zM957.5 308h8v8h-8zM1293.5 308h8v8h-8zM1077.5 356h8v8h-8zM1173.5 356h8v8h-8z"/>
<path fill="#757575" d="M1085.5 164h8v8h-8zM1165.5 164h8v8h-8zM1045.5 172h8v8h-8zM1293.5 220h8v8h-8zM1037.5 348h8v8h-8zM1213.5 348h8v8h-8z"/>
<path fill="#767676" d="M1093.5 164h8v8h-8zM1157.5 164h8v8h-8zM1205.5 172h8v8h-8zM1021.5 180h8v8h-8zM1229.5 180h8v8h-8zM989.5 196h8v8h-8zM1013.5 340h8v8h-8zM1237.5 340h8v8h-8zM1085.5 356h8v8h-8zM1165.5 356h8v8h-8z"/>
<path fill="#777777" d="M1101.5 164h8v8h-8zM1149.5 164h8v8h-8zM1005.5 188h8v8h-8zM1261.5 196h8v8h-8zM981.5 324h8v8h-8zM1269.5 324h8v8h-8zM1093.5 356h8v8h-8zM1157.5 356h8v8h-8z"/>
<path fill="#787878" d="M1109.5 164h40v8h-40zM1053.5 172h8v8h-8zM1197.5 172h8v8h-8zM1245.5 188h8v8h-8zM997.5 332h8v8h-8zM1253.5 332h8v8h-8zM1045.5 348h8v8h-8zM1205.5 348h8v8h-8zM1101.5 356h16v8h-16zM1141.5 356h16v8h-16z"/>
<path fill="#797979" d="M957.5 228h8v8h-8zM1293.5 228h8v8h-8zM957.5 236h8v8h-8zM1293.5 236h8v8h-8zM957.5 244h8v8h-8zM1293.5 244h8v8h-8zM957.5 252h8v8h-8zM1293.5 252h8v8h-8zM957.5 260h8v8h-8zM1293.5 260h8v8h-8zM957.5 268h8v8h-8zM1293.5 268h8v8h-8zM957.5 276h8v8h-8zM1293.5 276h8v8h-8zM957.5 284h8v8h-8zM1293.5 284h8v8h-8zM957.5 292h8v8h-8zM1293.5 292h8v8h-8zM957.5 300h8v8h-8zM1293.5 300h8v8h-8zM1117.5 356h24v8h-24z"/>
<path fill="#7a7a7a" d="M1029.5 180h8v8h-8zM1221.5 180h8v8h-8zM1021.5 340h8v8h-8zM1229.5 340h8v8h-8z"/>
<path fill="#7b7b7b" d="M1061.5 172h8v8h-8zM1189.5 172h8v8h-8zM981.5 204h8v8h-8zM1269.5 204h8v8h-8zM1053.5 348h8v8h-8zM1197.5 348h8v8h-8z"/>
<path fill="#7c7c7c" d="M973.5 316h8v8h-8zM1277.5 316h8v8h-8z"/>
<path fill="#7d7d7d" d="M1069.5 172h8v8h-8zM1181.5 172h8v8h-8zM1013.5 188h8v8h-8zM1237.5 188h8v8h-8zM997.5 196h8v8h-8zM1061.5 348h8v8h-8zM1189.5 348h8v8h-8z"/>
<path fill="#7e7e7e" d="M1037.5 180h8v8h-8zM1213.5 180h8v8h-8zM1253.5 196h8v8h-8zM973.5 212h8v8h-8zM1277.5 212h8v8h-8zM1005.5 332h8v8h-8zM1245.5 332h8v8h-8zM1029.5 340h8v8h-8z"/>
<path fill="#7f7f7f" d="M1077.5 172h8v8h-8zM1173.5 172h8v8h-8zM989.5 324h8v8h-8zM1261.5 324h8v8h-8zM1221.5 340h8v8h-8zM1069.5 348h8v8h-8z"/>
<path fill="#808080" d="M1085.5 172h8v8h-8zM1165.5 172h8v8h-8zM965.5 220h8v8h-8zM965.5 308h8v8h-8zM1285.5 308h8v8h-8zM1181.5 348h8v8h-8z"/>
<path fill="#818181" d="M1045.5 180h8v8h-8zM1205.5 180h8v8h-8zM1285.5 220h8v8h-8zM1077.5 348h8v8h-8zM1173.5 348h8v8h-8z"/>
<path fill="#828282" d="M1093.5 172h8v8h-8zM1157.5 172h8v8h-8zM1021.5 188h8v8h-8zM1229.5 188h8v8h-8zM1037.5 340h8v8h-8zM1213.5 340h8v8h-8z"/>
<path fill="#838383" d="M1101.5 172h16v8h-16zM1141.5 172h16v8h-16zM1005.5 196h8v8h-8zM989.5 204h8v8h-8zM1261.5 204h8v8h-8zM1013.5 332h8v8h-8zM1237.5 332h8v8h-8zM1085.5 348h8v8h-8zM1165.5 348h8v8h-8z"/>
<path fill="#848484" d="M1117.5 172h24v8h-24zM1053.5 180h8v8h-8zM1197.5 180h8v8h-8zM1245.5 196h8v8h-8zM1093.5 348h8v8h-8zM1157.5 348h8v8h-8z"/>
<path fill="#858585" d="M965.5 228h8v8h-8zM965.5 236h8v8h-8zM965.5 244h8v8h-8zM965.5 252h8v8h-8zM965.5 260h8v8h-8zM965.5 268h8v8h-8zM965.5 276h8v8h-8zM965.5 284h8v8h-8zM965.5 292h8v8h-8zM965.5 300h8v8h-8zM981.5 316h8v8h-8zM1269.5 316h8v8h-8zM1101.5 348h8v8h-8zM1149.5 348h8v8h-8z"/>
<path fill="#868686" d="M1029.5 188h8v8h-8zM1221.5 188h8v8h-8zM1285.5 228h8v8h-8zM1285.5 236h8v8h-8zM1285.5 244h8v8h-8zM1285.5 252h8v8h-8zM1285.5 260h8v8h-8zM1285.5 268h8v8h-8zM1285.5 276h8v8h-8zM1285.5 284h8v8h-8zM1285.5 292h8v8h-8zM1285.5 300h8v8h-8zM997.5 324h8v8h-8zM1253.5 324h8v8h-8zM1045.5 340h8v8h-8zM1205.5 340h8v8h-8zM1109.5 348h16v8h-16zM1133.5 348h16v8h-16z"/>
<path fill="#878787" d="M1061.5 180h8v8h-8zM1189.5 180h8v8h-8zM981.5 212h8v8h-8zM1125.5 348h8v8h-8z"/>
<path fill="#888888" d="M1269.5 212h8v8h-8zM1021.5 332h8v8h-8z"/>
<path fill="#898989" d="M1069.5 180h8v8h-8zM1181.5 180h8v8h-8zM1013.5 196h8v8h-8zM1229.5 332h8v8h-8zM1053.5 340h8v8h-8zM1197.5 340h8v8h-8z"/>
<path fill="#8a8a8a" d="M1037.5 188h8v8h-8zM1213.5 188h8v8h-8zM1237.5 196h8v8h-8zM997.5 204h8v8h-8zM1253.5 204h8v8h-8z"/>
<path fill="#8b8b8b" d="M1077.5 180h8v8h-8zM1173.5 180h8v8h-8zM973.5 220h8v8h-8zM973.5 308h8v8h-8zM1277.5 308h8v8h-8z"/>
<path fill="#8c8c8c" d="M1277.5 220h8v8h-8zM1005.5 324h8v8h-8zM1061.5 340h8v8h-8zM1189.5 340h8v8h-8z"/>
<path fill="#8d8d8d" d="M1085.5 180h8v8h-8zM1165.5 180h8v8h-8zM1245.5 324h8v8h-8zM1029.5 332h8v8h-8zM1221.5 332h8v8h-8z"/>
<path fill="#8e8e8e" d="M1093.5 180h8v8h-8zM1045.5 188h8v8h-8zM1205.5 188h8v8h-8zM989.5 316h8v8h-8zM1261.5 316h8v8h-8zM1069.5 340h8v8h-8zM1181.5 340h8v8h-8z"/>
<path fill="#8f8f8f" d="M1157.5 180h8v8h-8zM1021.5 196h8v8h-8zM1229.5 196h8v8h-8z"/>
<path fill="#909090" d="M1101.5 180h16v8h-16zM1141.5 180h16v8h-16zM989.5 212h8v8h-8zM1077.5 340h8v8h-8zM1173.5 340h8v8h-8z"/>
<path fill="#919191" d="M1117.5 180h24v8h-24zM1053.5 188h8v8h-8zM1197.5 188h8v8h-8zM1005.5 204h8v8h-8zM1245.5 204h8v8h-8zM1261.5 212h8v8h-8zM973.5 228h8v8h-8zM973.5 236h8v8h-8zM973.5 244h8v8h-8zM973.5 252h8v8h-8zM973.5 260h8v8h-8zM973.5 268h8v8h-8zM973.5 276h8v8h-8zM973.5 284h8v8h-8zM973.5 292h8v8h-8zM973.5 300h8v8h-8zM1037.5 332h8v8h-8zM1213.5 332h8v8h-8z"/>
<path fill="#929292" d="M1277.5 228h8v8h-8zM1277.5 236h8v8h-8zM1277.5 244h8v8h-8zM1277.5 252h8v8h-8zM1277.5 260h8v8h-8zM1277.5 268h8v8h-8zM1277.5 276h8v8h-8zM1277.5 284h8v8h-8zM1277.5 292h8v8h-8zM1277.5 300h8v8h-8zM1085.5 340h8v8h-8zM1165.5 340h8v8h-8z"/>
<path fill="#939393" d="M1013.5 324h8v8h-8zM1237.5 324h8v8h-8zM1093.5 340h8v8h-8zM1157.5 340h8v8h-8z"/>
<path fill="#949494" d="M1061.5 188h8v8h-8zM1189.5 188h8v8h-8zM1029.5 196h8v8h-8zM1221.5 196h8v8h-8z"/>
<path fill="#959595" d="M981.5 308h8v8h-8zM1045.5 332h8v8h-8zM1205.5 332h8v8h-8zM1101.5 340h16v8h-16zM1141.5 340h16v8h-16z"/>
<path fill="#969696" d="M981.5 220h8v8h-8zM1269.5 220h8v8h-8zM1269.5 308h8v8h-8zM997.5 316h8v8h-8zM1253.5 316h8v8h-8zM1117.5 340h24v8h-24z"/>
<path fill="#979797" d="M1069.5 188h8v8h-8zM1181.5 188h8v8h-8zM1013.5 204h8v8h-8z"/>
<path fill="#989898" d="M1037.5 196h8v8h-8zM1237.5 204h8v8h-8zM1021.5 324h8v8h-8z"/>
<path fill="#999999" d="M1077.5 188h8v8h-8zM1173.5 188h8v8h-8zM1213.5 196h8v8h-8zM997.5 212h8v8h-8zM1253.5 212h8v8h-8zM1229.5 324h8v8h-8zM1053.5 332h8v8h-8zM1197.5 332h8v8h-8z"/>
<path fill="#9b9b9b" d="M1085.5 188h8v8h-8zM1165.5 188h8v8h-8z"/>
<path fill="#9c9c9c" d="M1045.5 196h8v8h-8zM981.5 228h8v8h-8zM1269.5 228h8v8h-8zM981.5 236h8v8h-8zM1269.5 236h8v8h-8zM981.5 244h8v8h-8zM1269.5 244h8v8h-8zM981.5 252h8v8h-8zM1269.5 252h8v8h-8zM981.5 260h8v8h-8zM1269.5 260h8v8h-8zM981.5 268h8v8h-8zM1269.5 268h8v8h-8zM981.5 276h8v8h-8zM1269.5 276h8v8h-8zM981.5 284h8v8h-8zM1269.5 284h8v8h-8zM981.5 292h8v8h-8zM1269.5 292h8v8h-8zM981.5 300h8v8h-8zM1269.5 300h8v8h-8zM1061.5 332h8v8h-8zM1189.5 332h8v8h-8z"/>
<path fill="#9d9d9d" d="M1093.5 188h8v8h-8zM1157.5 188h8v8h-8zM1205.5 196h8v8h-8zM1021.5 204h8v8h-8zM1005.5 316h8v8h-8z"/>
<path fill="#9e9e9e" d="M1101.5 188h8v8h-8zM1149.5 188h8v8h-8zM1229.5 204h8v8h-8zM1245.5 316h8v8h-8zM1029.5 324h8v8h-8zM1221.5 324h8v8h-8z"/>
<path fill="#9f9f9f" d="M1109.5 188h8v8h-8zM1141.5 188h8v8h-8zM989.5 308h8v8h-8zM1261.5 308h8v8h-8zM1069.5 332h8v8h-8zM1181.5 332h8v8h-8z"/>
<path fill="#a0a0a0" d="M1117.5 188h24v8h-24zM1053.5 196h8v8h-8zM1197.5 196h8v8h-8zM1005.5 212h8v8h-8zM989.5 220h8v8h-8zM1261.5 220h8v8h-8z"/>
<path fill="#a1a1a1" d="M1245.5 212h8v8h-8zM1077.5 332h8v8h-8zM1173.5 332h8v8h-8z"/>
<path fill="#a2a2a2" d="M1037.5 324h8v8h-8z"/>
<path fill="#a3a3a3" d="M1029.5 204h8v8h-8zM1221.5 204h8v8h-8zM1213.5 324h8v8h-8zM1085.5 332h8v8h-8zM1165.5 332h8v8h-8z"/>
<path fill="#a4a4a4" d="M1061.5 196h8v8h-8zM1189.5 196h8v8h-8zM1013.5 316h8v8h-8z"/>
<path fill="#a5a5a5" d="M1237.5 316h8v8h-8zM1093.5 332h8v8h-8zM1157.5 332h8v8h-8z"/>
<path fill="#a6a6a6" d="M1069.5 196h8v8h-8zM989.5 228h8v8h-8zM989.5 236h8v8h-8zM989.5 244h8v8h-8zM989.5 252h8v8h-8zM989.5 260h8v8h-8zM989.5 268h8v8h-8zM989.5 276h8v8h-8zM989.5 284h8v8h-8zM989.5 292h8v8h-8zM989.5 300h8v8h-8zM1101.5 332h8v8h-8zM1149.5 332h8v8h-8z"/>
<path fill="#a7a7a7" d="M1181.5 196h8v8h-8zM1013.5 212h8v8h-8zM1261.5 228h8v8h-8zM1261.5 236h8v8h-8zM1261.5 244h8v8h-8zM1261.5 252h8v8h-8zM1261.5 260h8v8h-8zM1261.5 268h8v8h-8zM1261.5 276h8v8h-8zM1261.5 284h8v8h-8zM1261.5 292h8v8h-8zM1261.5 300h8v8h-8zM1045.5 324h8v8h-8zM1205.5 324h8v8h-8zM1109.5 332h16v8h-16zM1141.5 332h8v8h-8z"/>
<path fill="#a8a8a8" d="M1037.5 204h8v8h-8zM1213.5 204h8v8h-8zM1237.5 212h8v8h-8zM997.5 308h8v8h-8zM1125.5 332h16v8h-16z"/>
<path fill="#a9a9a9" d="M1077.5 196h8v8h-8zM1173.5 196h8v8h-8zM997.5 220h8v8h-8zM1253.5 220h8v8h-8zM1253.5 308h8v8h-8z"/>
<path fill="#ababab" d="M1085.5 196h8v8h-8zM1165.5 196h8v8h-8zM1021.5 316h8v8h-8zM1229.5 316h8v8h-8zM1053.5 324h8v8h-8zM1197.5 324h8v8h-8z"/>
<path fill="#adadad" d="M1093.5 196h8v8h-8zM1157.5 196h8v8h-8zM1045.5 204h8v8h-8zM1205.5 204h8v8h-8z"/>
<path fill="#aeaeae" d="M1101.5 196h8v8h-8zM1149.5 196h8v8h-8zM1021.5 212h8v8h-8zM1229.5 212h8v8h-8zM1061.5 324h8v8h-8z"/>
<path fill="#afafaf" d="M1109.5 196h8v8h-8zM1141.5 196h8v8h-8zM1189.5 324h8v8h-8z"/>
<path fill="#b0b0b0" d="M1117.5 196h24v8h-24zM997.5 228h8v8h-8zM1253.5 228h8v8h-8zM997.5 236h8v8h-8zM1253.5 236h8v8h-8zM997.5 244h8v8h-8zM1253.5 244h8v8h-8zM997.5 252h8v8h-8zM1253.5 252h8v8h-8zM997.5 260h8v8h-8zM1253.5 260h8v8h-8zM997.5 268h8v8h-8zM1253.5 268h8v8h-8zM997.5 276h8v8h-8zM1253.5 276h8v8h-8zM997.5 284h8v8h-8zM1253.5 284h8v8h-8zM997.5 292h8v8h-8zM1253.5 292h8v8h-8zM997.5 300h8v8h-8zM1253.5 300h8v8h-8z"/>
<path fill="#b1b1b1" d="M1053.5 204h8v8h-8zM1197.5 204h8v8h-8zM1005.5 220h8v8h-8zM1005.5 308h8v8h-8zM1245.5 308h8v8h-8zM1029.5 316h8v8h-8zM1221.5 316h8v8h-8z"/>
<path fill="#b2b2b2" d="M1245.5 220h8v8h-8zM1069.5 324h8v8h-8zM1181.5 324h8v8h-8z"/>
<path fill="#b4b4b4" d="M1029.5 212h8v8h-8zM1077.5 324h8v8h-8zM1173.5 324h8v8h-8z"/>
<path fill="#b5b5b5" d="M1061.5 204h8v8h-8zM1189.5 204h8v8h-8zM1221.5 212h8v8h-8z"/>
<path fill="#b6b6b6" d="M1037.5 316h8v8h-8z"/>
<path fill="#b7b7b7" d="M1213.5 316h8v8h-8zM1085.5 324h8v8h-8zM1165.5 324h8v8h-8z"/>
<path fill="#b8b8b8" d="M1069.5 204h8v8h-8zM1181.5 204h8v8h-8zM1005.5 228h8v8h-8zM1005.5 236h8v8h-8zM1005.5 244h8v8h-8zM1005.5 252h8v8h-8zM1005.5 260h8v8h-8zM1005.5 268h8v8h-8zM1005.5 276h8v8h-8zM1005.5 284h8v8h-8zM1005.5 292h8v8h-8zM1005.5 300h8v8h-8zM1013.5 308h8v8h-8zM1093.5 324h8v8h-8z"/>
<path fill="#b9b9b9" d="M1013.5 220h8v8h-8zM1245.5 228h8v8h-8zM1245.5 236h8v8h-8zM1245.5 244h8v8h-8zM1245.5 252h8v8h-8zM1245.5 260h8v8h-8zM1245.5 268h8v8h-8zM1245.5 276h8v8h-8zM1245.5 284h8v8h-8zM1245.5 292h8v8h-8zM1245.5 300h8v8h-8zM1237.5 308h8v8h-8zM1157.5 324h8v8h-8z"/>
<path fill="#bababa" d="M1037.5 212h8v8h-8zM1213.5 212h8v8h-8zM1237.5 220h8v8h-8zM1101.5 324h8v8h-8zM1149.5 324h8v8h-8z"/>
<path fill="#bbbbbb" d="M1077.5 204h8v8h-8zM1173.5 204h8v8h-8zM1045.5 316h8v8h-8zM1205.5 316h8v8h-8zM1109.5 324h8v8h-8zM1141.5 324h8v8h-8z"/>
<path fill="#bcbcbc" d="M1117.5 324h24v8h-24z"/>
<path fill="#bdbdbd" d="M1085.5 204h8v8h-8zM1165.5 204h8v8h-8z"/>
<path fill="#bfbfbf" d="M1093.5 204h8v8h-8zM1157.5 204h8v8h-8zM1045.5 212h8v8h-8zM1205.5 212h8v8h-8z"/>
<path fill="#c0c0c0" d="M1021.5 308h8v8h-8zM1229.5 308h8v8h-8zM1053.5 316h8v8h-8zM1197.5 316h8v8h-8z"/>
<path fill="#c1c1c1" d="M1101.5 204h8v8h-8zM1149.5 204h8v8h-8zM1021.5 220h8v8h-8zM1229.5 220h8v8h-8zM1013.5 228h8v8h-8zM1237.5 228h8v8h-8zM1013.5 236h8v8h-8zM1237.5 236h8v8h-8zM1013.5 244h8v8h-8zM1237.5 244h8v8h-8zM1013.5 252h8v8h-8zM1237.5 252h8v8h-8zM1013.5 260h8v8h-8zM1237.5 260h8v8h-8zM1013.5 268h8v8h-8zM1237.5 268h8v8h-8zM1013.5 276h8v8h-8zM1237.5 276h8v8h-8zM1013.5 284h8v8h-8zM1237.5 284h8v8h-8zM1013.5 292h8v8h-8zM1237.5 292h8v8h-8zM1013.5 300h8v8h-8zM1237.5 300h8v8h-8z"/>
<path fill="#c2c2c2" d="M1109.5 204h16v8h-16zM1133.5 204h16v8h-16z"/>
<path fill="#c3c3c3" d="M1125.5 204h8v8h-8z"/>
<path fill="#c4c4c4" d="M1053.5 212h8v8h-8zM1197.5 212h8v8h-8zM1061.5 316h8v8h-8zM1189.5 316h8v8h-8z"/>
<path fill="#c7c7c7" d="M1029.5 308h8v8h-8zM1221.5 308h8v8h-8zM1069.5 316h8v8h-8zM1181.5 316h8v8h-8z"/>
<path fill="#c8c8c8" d="M1061.5 212h8v8h-8zM1189.5 212h8v8h-8zM1029.5 220h8v8h-8zM1221.5 220h8v8h-8zM1021.5 228h8v8h-8zM1021.5 236h8v8h-8zM1021.5 244h8v8h-8zM1021.5 252h8v8h-8zM1021.5 260h8v8h-8zM1021.5 268h8v8h-8zM1021.5 276h8v8h-8zM1021.5 284h8v8h-8zM1021.5 292h8v8h-8zM1021.5 300h8v8h-8z"/>
<path fill="#c9c9c9" d="M1229.5 228h8v8h-8zM1229.5 236h8v8h-8zM1229.5 244h8v8h-8zM1229.5 252h8v8h-8zM1229.5 260h8v8h-8zM1229.5 268h8v8h-8zM1229.5 276h8v8h-8zM1229.5 284h8v8h-8zM1229.5 292h8v8h-8zM1229.5 300h8v8h-8z"/>
<path fill="#cacaca" d="M1077.5 316h8v8h-8zM1173.5 316h8v8h-8z"/>
<path fill="#cbcbcb" d="M1069.5 212h8v8h-8z"/>
<path fill="#cccccc" d="M1181.5 212h8v8h-8z"/>
<path fill="#cdcdcd" d="M1037.5 308h8v8h-8zM1213.5 308h8v8h-8zM1085.5 316h8v8h-8zM1165.5 316h8v8h-8z"/>
<path fill="#cecece" d="M1077.5 212h8v8h-8zM1037.5 220h8v8h-8zM1213.5 220h8v8h-8z"/>
<path fill="#cfcfcf" d="M1173.5 212h8v8h-8zM1029.5 228h8v8h-8zM1029.5 236h8v8h-8zM1029.5 244h8v8h-8zM1029.5 252h8v8h-8zM1029.5 260h8v8h-8zM1029.5 268h8v8h-8zM1029.5 276h8v8h-8zM1029.5 284h8v8h-8zM1029.5 292h8v8h-8zM1029.5 300h8v8h-8zM1093.5 316h8v8h-8zM1157.5 316h8v8h-8z"/>
<path fill="#d0d0d0" d="M1221.5 228h8v8h-8zM1221.5 236h8v8h-8zM1221.5 244h8v8h-8zM1221.5 252h8v8h-8zM1221.5 260h8v8h-8zM1221.5 268h8v8h-8zM1221.5 276h8v8h-8zM1221.5 284h8v8h-8zM1221.5 292h8v8h-8zM1221.5 300h8v8h-8z"/>
<path fill="#d1d1d1" d="M1085.5 212h8v8h-8zM1165.5 212h8v8h-8zM1101.5 316h8v8h-8zM1149.5 316h8v8h-8z"/>
<path fill="#d2d2d2" d="M1045.5 308h8v8h-8zM1109.5 316h8v8h-8zM1141.5 316h8v8h-8z"/>
<path fill="#d3d3d3" d="M1093.5 212h8v8h-8zM1157.5 212h8v8h-8zM1045.5 220h8v8h-8zM1205.5 308h8v8h-8zM1117.5 316h24v8h-24z"/>
<path fill="#d4d4d4" d="M1205.5 220h8v8h-8z"/>
<path fill="#d5d5d5" d="M1101.5 212h8v8h-8zM1149.5 212h8v8h-8z"/>
<path fill="#d6d6d6" d="M1109.5 212h8v8h-8zM1141.5 212h8v8h-8zM1037.5 228h8v8h-8zM1213.5 228h8v8h-8zM1037.5 236h8v8h-8zM1213.5 236h8v8h-8zM1037.5 244h8v8h-8zM1213.5 244h8v8h-8zM1037.5 252h8v8h-8zM1213.5 252h8v8h-8zM1037.5 260h8v8h-8zM1213.5 260h8v8h-8zM1037.5 268h8v8h-8zM1213.5 268h8v8h-8zM1037.5 276h8v8h-8zM1213.5 276h8v8h-8zM1037.5 284h8v8h-8zM1213.5 284h8v8h-8zM1037.5 292h8v8h-8zM1213.5 292h8v8h-8zM1037.5 300h8v8h-8zM1213.5 300h8v8h-8z"/>
<path fill="#d7d7d7" d="M1117.5 212h24v8h-24zM1053.5 308h8v8h-8z"/>
<path fill="#d8d8d8" d="M1197.5 308h8v8h-8z"/>
<path fill="#d9d9d9" d="M1053.5 220h8v8h-8zM1197.5 220h8v8h-8z"/>
<path fill="#dcdcdc" d="M1045.5 228h8v8h-8zM1205.5 228h8v8h-8zM1045.5 236h8v8h-8zM1205.5 236h8v8h-8zM1045.5 244h8v8h-8zM1205.5 244h8v8h-8zM1045.5 252h8v8h-8zM1205.5 252h8v8h-8zM1045.5 260h8v8h-8zM1205.5 260h8v8h-8zM1045.5 268h8v8h-8zM1205.5 268h8v8h-8zM1045.5 276h8v8h-8zM1205.5 276h8v8h-8zM1045.5 284h8v8h-8zM1205.5 284h8v8h-8zM1045.5 292h8v8h-8zM1205.5 292h8v8h-8zM1045.5 300h8v8h-8zM1205.5 300h8v8h-8zM1061.5 308h8v8h-8zM1189.5 308h8v8h-8z"/>
<path fill="#dddddd" d="M1061.5 220h8v8h-8zM1189.5 220h8v8h-8z"/>
<path fill="#e0e0e0" d="M1069.5 308h8v8h-8zM1181.5 308h8v8h-8z"/>
<path fill="#e1e1e1" d="M1069.5 220h8v8h-8zM1181.5 220h8v8h-8zM1053.5 228h8v8h-8zM1197.5 228h8v8h-8zM1053.5 236h8v8h-8zM1197.5 236h8v8h-8zM1053.5 244h8v8h-8zM1197.5 244h8v8h-8zM1053.5 252h8v8h-8zM1197.5 252h8v8h-8zM1053.5 260h8v8h-8zM1197.5 260h8v8h-8zM1053.5 268h8v8h-8zM1197.5 268h8v8h-8zM1053.5 276h8v8h-8zM1197.5 276h8v8h-8zM1053.5 284h8v8h-8zM1197.5 284h8v8h-8zM1053.5 292h8v8h-8zM1197.5 292h8v8h-8zM1053.5 300h8v8h-8zM1197.5 300h8v8h-8z"/>
<path fill="#e3e3e3" d="M1077.5 308h8v8h-8z"/>
<path fill="#e4e4e4" d="M1173.5 308h8v8h-8z"/>
<path fill="#e5e5e5" d="M1077.5 220h8v8h-8zM1173.5 220h8v8h-8z"/>
<path fill="#e6e6e6" d="M1061.5 228h8v8h-8zM1189.5 228h8v8h-8zM1061.5 236h8v8h-8zM1189.5 236h8v8h-8zM1061.5 244h8v8h-8zM1189.5 244h8v8h-8zM1061.5 252h8v8h-8zM1189.5 252h8v8h-8zM1061.5 260h8v8h-8zM1189.5 260h8v8h-8zM1061.5 268h8v8h-8zM1189.5 268h8v8h-8zM1061.5 276h8v8h-8zM1189.5 276h8v8h-8zM1061.5 284h8v8h-8zM1189.5 284h8v8h-8zM1061.5 292h8v8h-8zM1189.5 292h8v8h-8zM1061.5 300h8v8h-8zM1189.5 300h8v8h-8zM1085.5 308h8v8h-8zM1165.5 308h8v8h-8z"/>
<path fill="#e8e8e8" d="M1085.5 220h8v8h-8zM1165.5 220h8v8h-8z"/>
<path fill="#e9e9e9" d="M1093.5 308h8v8h-8zM1157.5 308h8v8h-8z"/>
<path fill="#eaeaea" d="M1093.5 220h8v8h-8zM1157.5 220h8v8h-8zM1069.5 228h8v8h-8zM1181.5 228h8v8h-8zM1069.5 236h8v8h-8zM1181.5 236h8v8h-8zM1069.5 244h8v8h-8zM1181.5 244h8v8h-8zM1069.5 252h8v8h-8zM1181.5 252h8v8h-8zM1069.5 260h8v8h-8zM1181.5 260h8v8h-8zM1069.5 268h8v8h-8zM1181.5 268h8v8h-8zM1069.5 276h8v8h-8zM1181.5 276h8v8h-8zM1069.5 284h8v8h-8zM1181.5 284h8v8h-8zM1069.5 292h8v8h-8zM1181.5 292h8v8h-8zM1069.5 300h8v8h-8zM1181.5 300h8v8h-8zM1101.5 308h8v8h-8z"/>
<path fill="#ebebeb" d="M1149.5 308h8v8h-8z"/>
<path fill="#ececec" d="M1101.5 220h8v8h-8zM1149.5 220h8v8h-8zM1109.5 308h8v8h-8zM1141.5 308h8v8h-8z"/>
<path fill="#ededed" d="M1109.5 220h8v8h-8zM1141.5 220h8v8h-8zM1077.5 228h8v8h-8zM1077.5 236h8v8h-8zM1077.5 244h8v8h-8zM1077.5 252h8v8h-8zM1077.5 260h8v8h-8zM1077.5 268h8v8h-8zM1077.5 276h8v8h-8zM1077.5 284h8v8h-8zM1077.5 292h8v8h-8zM1077.5 300h8v8h-8zM1117.5 308h24v8h-24z"/>
<path fill="#eeeeee" d="M1117.5 220h24v8h-24zM1173.5 228h8v8h-8zM1173.5 236h8v8h-8zM1173.5 244h8v8h-8zM1173.5 252h8v8h-8zM1173.5 260h8v8h-8zM1173.5 268h8v8h-8zM1173.5 276h8v8h-8zM1173.5 284h8v8h-8zM1173.5 292h8v8h-8zM1173.5 300h8v8h-8z"/>
<path fill="#f1f1f1" d="M1085.5 228h8v8h-8zM1165.5 228h8v8h-8zM1085.5 236h8v8h-8zM1165.5 236h8v8h-8zM1085.5 244h8v8h-8zM1165.5 244h8v8h-8zM1085.5 252h8v8h-8zM1165.5 252h8v8h-8zM1085.5 260h8v8h-8zM1165.5 260h8v8h-8zM1085.5 268h8v8h-8zM1165.5 268h8v8h-8zM1085.5 276h8v8h-8zM1165.5 276h8v8h-8zM1085.5 284h8v8h-8zM1165.5 284h8v8h-8zM1085.5 292h8v8h-8zM1165.5 292h8v8h-8zM1085.5 300h8v8h-8zM1165.5 300h8v8h-8z"/>
<path fill="#f3f3f3" d="M1093.5 228h8v8h-8zM1157.5 228h8v8h-8zM1093.5 236h8v8h-8zM1157.5 236h8v8h-8zM1093.5 244h8v8h-8zM1157.5 244h8v8h-8zM1093.5 252h8v8h-8zM1157.5 252h8v8h-8zM1093.5 260h8v8h-8zM1157.5 260h8v8h-8zM1093.5 268h8v8h-8zM1157.5 268h8v8h-8zM1093.5 276h8v8h-8zM1157.5 276h8v8h-8zM1093.5 284h8v8h-8zM1157.5 284h8v8h-8zM1093.5 292h8v8h-8zM1157.5 292h8v8h-8zM1093.5 300h8v8h-8zM1157.5 300h8v8h-8z"/>
<path fill="#f5f5f5" d="M1101.5 228h8v8h-8zM1149.5 228h8v8h-8zM1101.5 236h8v8h-8zM1149.5 236h8v8h-8zM1101.5 244h8v8h-8zM1149.5 244h8v8h-8zM1101.5 252h8v8h-8zM1149.5 252h8v8h-8zM1101.5 260h8v8h-8zM1149.5 260h8v8h-8zM1101.5 268h8v8h-8zM1149.5 268h8v8h-8zM1101.5 276h8v8h-8zM1149.5 276h8v8h-8zM1101.5 284h8v8h-8zM1149.5 284h8v8h-8zM1101.5 292h8v8h-8zM1149.5 292h8v8h-8zM1101.5 300h8v8h-8zM1149.5 300h8v8h-8z"/>
<path fill="#f6f6f6" d="M1109.5 228h8v8h-8zM1141.5 228h8v8h-8zM1109.5 236h8v8h-8zM1141.5 236h8v8h-8zM1109.5 244h8v8h-8zM1141.5 244h8v8h-8zM1109.5 252h8v8h-8zM1141.5 252h8v8h-8zM1109.5 260h8v8h-8zM1141.5 260h8v8h-8zM1109.5 268h8v8h-8zM1141.5 268h8v8h-8zM1109.5 276h8v8h-8zM1141.5 276h8v8h-8zM1109.5 284h8v8h-8zM1141.5 284h8v8h-8zM1109.5 292h8v8h-8zM1141.5 292h8v8h-8zM1109.5 300h8v8h-8zM1141.5 300h8v8h-8z"/>
<path fill="#f7f7f7" d="M1117.5 228h24v8h-24zM1117.5 236h24v8h-24zM1117.5 244h24v8h-24zM1117.5 252h24v8h-24zM1117.5 260h24v8h-24zM1117.5 268h24v8h-24zM1117.5 276h24v8h-24zM1117.5 284h24v8h-24zM1117.5 292h24v8h-24zM1117.5 300h24v8h-24z"/>
</g></g>
<defs><linearGradient id="nsg" x1="0" x2="1" y1="0" y2="0"><stop offset="0.000" stop-color="#d10000"/><stop offset="0.025" stop-color="#ec2300"/><stop offset="0.050" stop-color="#ec5600"/><stop offset="0.075" stop-color="#ec8500"/><stop offset="0.100" stop-color="#ecaf00"/><stop offset="0.125" stop-color="#ecd600"/><stop offset="0.150" stop-color="#ecec0e"/><stop offset="0.175" stop-color="#ecec2d"/><stop offset="0.200" stop-color="#ecec49"/><stop offset="0.225" stop-color="#ecec63"/><stop offset="0.250" stop-color="#ecec7a"/><stop offset="0.275" stop-color="#ecec8f"/><stop offset="0.300" stop-color="#ececa2"/><stop offset="0.325" stop-color="#ececb2"/><stop offset="0.350" stop-color="#ececc1"/><stop offset="0.375" stop-color="#ececcd"/><stop offset="0.400" stop-color="#ececd6"/><stop offset="0.425" stop-color="#ececde"/><stop offset="0.450" stop-color="#ecece3"/><stop offset="0.475" stop-color="#ecece7"/><stop offset="0.500" stop-color="#ecece8"/><stop offset="0.525" stop-color="#ecece7"/><stop offset="0.550" stop-color="#ecece3"/><stop offset="0.575" stop-color="#ececde"/><stop offset="0.600" stop-color="#ececd6"/><stop offset="0.625" stop-color="#ececcd"/><stop offset="0.650" stop-color="#ececc1"/><stop offset="0.675" stop-color="#ececb2"/><stop offset="0.700" stop-color="#ececa2"/><stop offset="0.725" stop-color="#ecec8f"/><stop offset="0.750" stop-color="#ecec7a"/><stop offset="0.775" stop-color="#ecec63"/><stop offset="0.800" stop-color="#ecec49"/><stop offset="0.825" stop-color="#ecec2d"/><stop offset="0.850" stop-color="#ecec0e"/><stop offset="0.875" stop-color="#ecd600"/><stop offset="0.900" stop-color="#ecaf00"/><stop offset="0.925" stop-color="#ec8500"/><stop offset="0.950" stop-color="#ec5600"/><stop offset="0.975" stop-color="#ec2300"/><stop offset="1.000" stop-color="#d10000"/></linearGradient></defs>
<rect x="925.5" y="227.0" width="408.5" height="82.0" fill="url(#nsg)"/>
<path d="M925.3 12.0V530.0" stroke="#5c0000" stroke-width="2.6" fill="none"/>
<path d="M1333.6 12.0V530.0" stroke="#8a0000" stroke-width="3.4" fill="none"/>
<path d="M926.5 226H1332" stroke="#b4b4a0" stroke-opacity="0.5" stroke-width="1.6" fill="none"/>
<path d="M926.5 227.5H1332" stroke="#000" stroke-width="1.4" fill="none"/>
<path d="M926.5 309H1332" stroke="#3a3a00" stroke-opacity="0.75" stroke-width="2" fill="none"/>
<defs><linearGradient id="cbg" x1="0" x2="0" y1="0" y2="1"><stop offset="0.000" stop-color="#fffffd"/><stop offset="0.025" stop-color="#ffffee"/><stop offset="0.050" stop-color="#ffffde"/><stop offset="0.075" stop-color="#ffffce"/><stop offset="0.100" stop-color="#ffffbe"/><stop offset="0.125" stop-color="#ffffae"/><stop offset="0.150" stop-color="#ffff9e"/><stop offset="0.175" stop-color="#ffff8e"/><stop offset="0.200" stop-color="#ffff7e"/><stop offset="0.225" stop-color="#ffff6e"/><stop offset="0.250" stop-color="#ffff5f"/><stop offset="0.275" stop-color="#ffff4f"/><stop offset="0.300" stop-color="#ffff3f"/><stop offset="0.325" stop-color="#ffff2f"/><stop offset="0.350" stop-color="#ffff1f"/><stop offset="0.375" stop-color="#ffff0f"/><stop offset="0.400" stop-color="#fffe00"/><stop offset="0.425" stop-color="#ffed00"/><stop offset="0.450" stop-color="#ffdd00"/><stop offset="0.475" stop-color="#ffcc00"/><stop offset="0.500" stop-color="#ffbb00"/><stop offset="0.525" stop-color="#ffaa00"/><stop offset="0.550" stop-color="#ff9900"/><stop offset="0.575" stop-color="#ff8800"/><stop offset="0.600" stop-color="#ff7700"/><stop offset="0.625" stop-color="#ff6600"/><stop offset="0.650" stop-color="#ff5500"/><stop offset="0.675" stop-color="#ff4500"/><stop offset="0.700" stop-color="#ff3400"/><stop offset="0.725" stop-color="#ff2300"/><stop offset="0.750" stop-color="#ff1200"/><stop offset="0.775" stop-color="#ff0100"/><stop offset="0.800" stop-color="#f00000"/><stop offset="0.825" stop-color="#e00000"/><stop offset="0.850" stop-color="#d00000"/><stop offset="0.875" stop-color="#bf0000"/><stop offset="0.900" stop-color="#af0000"/><stop offset="0.925" stop-color="#9f0000"/><stop offset="0.950" stop-color="#8f0000"/><stop offset="0.975" stop-color="#7f0000"/><stop offset="1.000" stop-color="#6f0000"/></linearGradient></defs>
<rect x="1431.5" y="18.5" width="20.0" height="507.20000000000005" fill="url(#cbg)" stroke="#000" stroke-width="1"/>
<text x="1464" y="499.9" font-family="DejaVu Sans, sans-serif" font-size="27.6" fill="#1c0000" stroke="#1c0000" stroke-width="0.45">40</text>
<text x="1464" y="451.42" font-family="DejaVu Sans, sans-serif" font-size="27.6" fill="#1c0000" stroke="#1c0000" stroke-width="0.45">60</text>
<text x="1464" y="402.95" font-family="DejaVu Sans, sans-serif" font-size="27.6" fill="#1c0000" stroke="#1c0000" stroke-width="0.45">80</text>
<text x="1464" y="354.47" font-family="DejaVu Sans, sans-serif" font-size="27.6" fill="#1c0000" stroke="#1c0000" stroke-width="0.45">100</text>
<text x="1464" y="305.99" font-family="DejaVu Sans, sans-serif" font-size="27.6" fill="#1c0000" stroke="#1c0000" stroke-width="0.45">120</text>
<text x="1464" y="257.51" font-family="DejaVu Sans, sans-serif" font-size="27.6" fill="#1c0000" stroke="#1c0000" stroke-width="0.45">140</text>
<text x="1464" y="209.03" font-family="DejaVu Sans, sans-serif" font-size="27.6" fill="#1c0000" stroke="#1c0000" stroke-width="0.45">160</text>
<text x="1464" y="160.56" font-family="DejaVu Sans, sans-serif" font-size="27.6" fill="#1c0000" stroke="#1c0000" stroke-width="0.45">180</text>
<text x="1464" y="112.08" font-family="DejaVu Sans, sans-serif" font-size="27.6" fill="#1c0000" stroke="#1c0000" stroke-width="0.45">200</text>
<text x="1464" y="63.6" font-family="DejaVu Sans, sans-serif" font-size="27.6" fill="#1c0000" stroke="#1c0000" stroke-width="0.45">220</text>
<path d="M1431.5 489.9h3M1451.5 489.9h-3M1431.5 441.42h3M1451.5 441.42h-3M1431.5 392.95h3M1451.5 392.95h-3M1431.5 344.47h3M1451.5 344.47h-3M1431.5 295.99h3M1451.5 295.99h-3M1431.5 247.51h3M1451.5 247.51h-3M1431.5 199.03h3M1451.5 199.03h-3M1431.5 150.56h3M1451.5 150.56h-3M1431.5 102.08h3M1451.5 102.08h-3M1431.5 53.6h3M1451.5 53.6h-3" stroke="#000" stroke-width="1"/>
<text x="1517" y="62.4" font-size="26" font-weight="bold" fill="#050000">(<tspan font-size="26" dx="-1" dy="-1.5">°</tspan><tspan dx="-1.5" dy="1.5">C</tspan><tspan dx="-1">)</tspan></text>
<path d="M890.5 271H1358" stroke="#000" stroke-width="6" stroke-dasharray="22.7 16.48"/>
<path d="M1358 263L1374.5 270.8L1358 278.5Z" fill="#000"/>
<path d="M1132.8 286.3L1118.6 360.2" stroke="#000" stroke-width="1.6"/>
<text x="1086" y="93.7" font-size="45.3" font-weight="bold" fill="#fff">SiO<tspan font-size="31" dy="10.5">2</tspan></text>
<text transform="translate(864 274) rotate(-90)" font-size="45" text-anchor="middle">Au electrode</text>
<text x="1359" y="226.7" font-size="26.6" text-anchor="middle">Profiling</text>
<text x="1359" y="257.6" font-size="26.6" text-anchor="middle">direction</text>
<text x="1131" y="397.3" font-size="44.8" font-weight="bold" text-anchor="middle">Au NS</text>
<text x="1125.7" y="432.3" font-size="26" font-weight="bold" text-anchor="middle" textLength="257" lengthAdjust="spacingAndGlyphs">(<tspan font-style="italic">W</tspan>: 400 nm, <tspan font-style="italic">L</tspan>: 2 µm)</text>
<text x="707.9" y="26.8" font-size="33.3">(b)</text>
</svg></body></html>
